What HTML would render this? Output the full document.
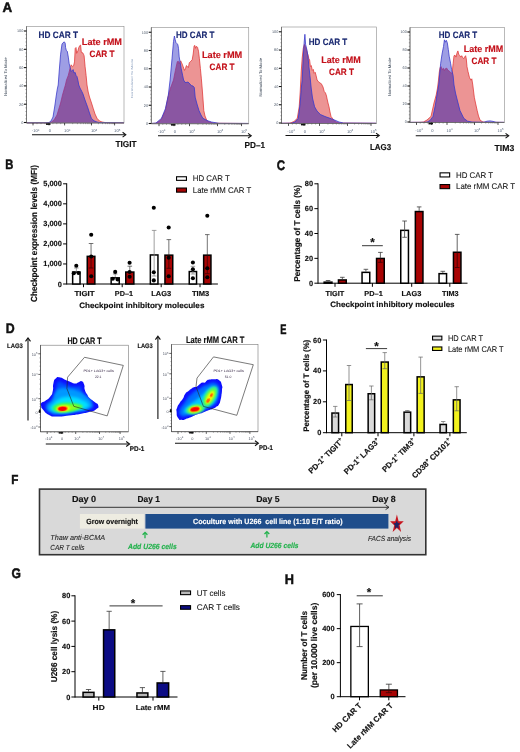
<!DOCTYPE html>
<html><head><meta charset="utf-8"><title>Figure</title>
<style>html,body{margin:0;padding:0;background:#fff;width:520px;height:752px;overflow:hidden}</style>
</head><body>
<svg width="520" height="752" viewBox="0 0 520 752" style="display:block">
<g font-family="'Liberation Sans', Arial, sans-serif" text-rendering="geometricPrecision">
<rect x="0" y="0" width="520" height="752" fill="#fff"/>
<text x="2.55" y="11.90" font-size="13.8" font-weight="bold" fill="#111" stroke="#111" stroke-width="0.5" textLength="9.70" lengthAdjust="spacingAndGlyphs">A</text>
<clipPath id="cb0"><polygon points="27.00,123.00 27.00,122.80 45.00,122.80 49.00,122.50 51.00,121.00 53.00,117.00 54.80,106.00 56.20,96.00 57.30,89.00 58.20,85.00 59.30,70.00 60.60,54.20 62.00,44.10 63.00,42.70 64.40,41.90 65.20,43.20 65.60,47.50 66.30,50.40 67.30,51.30 68.30,57.10 69.20,63.80 70.20,67.70 71.20,71.50 72.20,70.50 73.10,69.60 74.00,73.00 75.20,72.50 76.00,75.40 76.90,76.30 77.90,80.20 78.80,85.00 80.00,88.00 81.80,91.40 83.00,94.00 85.00,100.00 87.50,106.80 89.50,113.00 91.40,118.30 94.00,120.80 97.00,122.00 100.00,122.60 124.00,122.80 124.00,123.00"/></clipPath>
<polygon points="27.00,123.00 27.00,122.80 48.00,122.80 51.00,122.30 54.00,120.00 57.00,115.00 60.60,103.00 62.50,95.00 64.20,89.00 65.40,85.00 66.50,80.00 68.30,75.40 70.20,67.70 71.20,64.80 72.60,66.70 73.60,65.80 74.50,61.90 75.20,48.50 76.00,47.50 76.70,53.30 77.90,50.90 78.80,47.50 79.80,45.60 80.60,45.10 81.30,52.30 82.70,52.80 83.50,54.20 84.10,55.70 85.10,66.70 86.10,75.40 87.00,85.00 88.20,92.00 89.50,97.00 91.50,103.00 93.30,108.70 95.00,114.00 97.00,118.30 99.50,121.00 102.00,122.00 106.00,122.70 124.00,122.80 124.00,123.00" fill="#ec9494"/>
<polyline points="27.00,122.80 48.00,122.80 51.00,122.30 54.00,120.00 57.00,115.00 60.60,103.00 62.50,95.00 64.20,89.00 65.40,85.00 66.50,80.00 68.30,75.40 70.20,67.70 71.20,64.80 72.60,66.70 73.60,65.80 74.50,61.90 75.20,48.50 76.00,47.50 76.70,53.30 77.90,50.90 78.80,47.50 79.80,45.60 80.60,45.10 81.30,52.30 82.70,52.80 83.50,54.20 84.10,55.70 85.10,66.70 86.10,75.40 87.00,85.00 88.20,92.00 89.50,97.00 91.50,103.00 93.30,108.70 95.00,114.00 97.00,118.30 99.50,121.00 102.00,122.00 106.00,122.70 124.00,122.80" fill="none" stroke="#e03434" stroke-width="0.75"/>
<polygon points="27.00,123.00 27.00,122.80 45.00,122.80 49.00,122.50 51.00,121.00 53.00,117.00 54.80,106.00 56.20,96.00 57.30,89.00 58.20,85.00 59.30,70.00 60.60,54.20 62.00,44.10 63.00,42.70 64.40,41.90 65.20,43.20 65.60,47.50 66.30,50.40 67.30,51.30 68.30,57.10 69.20,63.80 70.20,67.70 71.20,71.50 72.20,70.50 73.10,69.60 74.00,73.00 75.20,72.50 76.00,75.40 76.90,76.30 77.90,80.20 78.80,85.00 80.00,88.00 81.80,91.40 83.00,94.00 85.00,100.00 87.50,106.80 89.50,113.00 91.40,118.30 94.00,120.80 97.00,122.00 100.00,122.60 124.00,122.80 124.00,123.00" fill="#9e9ee4"/>
<polygon points="27.00,123.00 27.00,122.80 48.00,122.80 51.00,122.30 54.00,120.00 57.00,115.00 60.60,103.00 62.50,95.00 64.20,89.00 65.40,85.00 66.50,80.00 68.30,75.40 70.20,67.70 71.20,64.80 72.60,66.70 73.60,65.80 74.50,61.90 75.20,48.50 76.00,47.50 76.70,53.30 77.90,50.90 78.80,47.50 79.80,45.60 80.60,45.10 81.30,52.30 82.70,52.80 83.50,54.20 84.10,55.70 85.10,66.70 86.10,75.40 87.00,85.00 88.20,92.00 89.50,97.00 91.50,103.00 93.30,108.70 95.00,114.00 97.00,118.30 99.50,121.00 102.00,122.00 106.00,122.70 124.00,122.80 124.00,123.00" fill="#8a56a2" clip-path="url(#cb0)"/>
<polyline points="27.00,122.80 48.00,122.80 51.00,122.30 54.00,120.00 57.00,115.00 60.60,103.00 62.50,95.00 64.20,89.00 65.40,85.00 66.50,80.00 68.30,75.40 70.20,67.70 71.20,64.80 72.60,66.70 73.60,65.80 74.50,61.90 75.20,48.50 76.00,47.50 76.70,53.30 77.90,50.90 78.80,47.50 79.80,45.60 80.60,45.10 81.30,52.30 82.70,52.80 83.50,54.20 84.10,55.70 85.10,66.70 86.10,75.40 87.00,85.00 88.20,92.00 89.50,97.00 91.50,103.00 93.30,108.70 95.00,114.00 97.00,118.30 99.50,121.00 102.00,122.00 106.00,122.70 124.00,122.80" fill="none" stroke="#9a3584" stroke-width="0.75" clip-path="url(#cb0)"/>
<polyline points="27.00,122.80 45.00,122.80 49.00,122.50 51.00,121.00 53.00,117.00 54.80,106.00 56.20,96.00 57.30,89.00 58.20,85.00 59.30,70.00 60.60,54.20 62.00,44.10 63.00,42.70 64.40,41.90 65.20,43.20 65.60,47.50 66.30,50.40 67.30,51.30 68.30,57.10 69.20,63.80 70.20,67.70 71.20,71.50 72.20,70.50 73.10,69.60 74.00,73.00 75.20,72.50 76.00,75.40 76.90,76.30 77.90,80.20 78.80,85.00 80.00,88.00 81.80,91.40 83.00,94.00 85.00,100.00 87.50,106.80 89.50,113.00 91.40,118.30 94.00,120.80 97.00,122.00 100.00,122.60 124.00,122.80" fill="none" stroke="#3434c8" stroke-width="0.75"/>
<rect x="26.5" y="26.5" width="97.5" height="96.5" fill="none" stroke="#8a8a8a" stroke-width="0.6"/>
<line x1="26.50" y1="26.50" x2="26.50" y2="123.00" stroke="#666" stroke-width="0.8"/>
<line x1="26.50" y1="123.00" x2="124.00" y2="123.00" stroke="#666" stroke-width="0.8"/>
<line x1="23.90" y1="122.50" x2="26.50" y2="122.50" stroke="#111" stroke-width="1.1"/>
<text x="23.30" y="123.80" font-size="3.8" fill="#556070" text-anchor="end">0</text>
<line x1="25.30" y1="118.84" x2="26.50" y2="118.84" stroke="#444" stroke-width="0.4"/>
<line x1="25.30" y1="115.18" x2="26.50" y2="115.18" stroke="#444" stroke-width="0.4"/>
<line x1="25.30" y1="111.52" x2="26.50" y2="111.52" stroke="#444" stroke-width="0.4"/>
<line x1="25.30" y1="107.86" x2="26.50" y2="107.86" stroke="#444" stroke-width="0.4"/>
<line x1="23.90" y1="104.20" x2="26.50" y2="104.20" stroke="#111" stroke-width="1.1"/>
<text x="23.30" y="105.50" font-size="3.8" fill="#556070" text-anchor="end">20</text>
<line x1="25.30" y1="100.54" x2="26.50" y2="100.54" stroke="#444" stroke-width="0.4"/>
<line x1="25.30" y1="96.88" x2="26.50" y2="96.88" stroke="#444" stroke-width="0.4"/>
<line x1="25.30" y1="93.22" x2="26.50" y2="93.22" stroke="#444" stroke-width="0.4"/>
<line x1="25.30" y1="89.56" x2="26.50" y2="89.56" stroke="#444" stroke-width="0.4"/>
<line x1="23.90" y1="85.90" x2="26.50" y2="85.90" stroke="#111" stroke-width="1.1"/>
<text x="23.30" y="87.20" font-size="3.8" fill="#556070" text-anchor="end">40</text>
<line x1="25.30" y1="82.24" x2="26.50" y2="82.24" stroke="#444" stroke-width="0.4"/>
<line x1="25.30" y1="78.58" x2="26.50" y2="78.58" stroke="#444" stroke-width="0.4"/>
<line x1="25.30" y1="74.92" x2="26.50" y2="74.92" stroke="#444" stroke-width="0.4"/>
<line x1="25.30" y1="71.26" x2="26.50" y2="71.26" stroke="#444" stroke-width="0.4"/>
<line x1="23.90" y1="67.60" x2="26.50" y2="67.60" stroke="#111" stroke-width="1.1"/>
<text x="23.30" y="68.90" font-size="3.8" fill="#556070" text-anchor="end">60</text>
<line x1="25.30" y1="63.94" x2="26.50" y2="63.94" stroke="#444" stroke-width="0.4"/>
<line x1="25.30" y1="60.28" x2="26.50" y2="60.28" stroke="#444" stroke-width="0.4"/>
<line x1="25.30" y1="56.62" x2="26.50" y2="56.62" stroke="#444" stroke-width="0.4"/>
<line x1="25.30" y1="52.96" x2="26.50" y2="52.96" stroke="#444" stroke-width="0.4"/>
<line x1="23.90" y1="49.30" x2="26.50" y2="49.30" stroke="#111" stroke-width="1.1"/>
<text x="23.30" y="50.60" font-size="3.8" fill="#556070" text-anchor="end">80</text>
<line x1="25.30" y1="45.64" x2="26.50" y2="45.64" stroke="#444" stroke-width="0.4"/>
<line x1="25.30" y1="41.98" x2="26.50" y2="41.98" stroke="#444" stroke-width="0.4"/>
<line x1="25.30" y1="38.32" x2="26.50" y2="38.32" stroke="#444" stroke-width="0.4"/>
<line x1="25.30" y1="34.66" x2="26.50" y2="34.66" stroke="#444" stroke-width="0.4"/>
<line x1="23.90" y1="31.00" x2="26.50" y2="31.00" stroke="#111" stroke-width="1.1"/>
<text x="23.30" y="32.30" font-size="3.8" fill="#556070" text-anchor="end">100</text>
<text transform="translate(7.10,95.95) rotate(-90)" x="0" y="0" font-size="4.0" fill="#3a4656" textLength="38.60" lengthAdjust="spacingAndGlyphs">Normalized To Mode</text>
<line x1="33.00" y1="123.00" x2="33.00" y2="125.40" stroke="#222" stroke-width="0.8"/>
<line x1="49.00" y1="123.00" x2="49.00" y2="125.40" stroke="#222" stroke-width="0.8"/>
<line x1="64.60" y1="123.00" x2="64.60" y2="125.40" stroke="#222" stroke-width="0.8"/>
<line x1="91.50" y1="123.00" x2="91.50" y2="125.40" stroke="#222" stroke-width="0.8"/>
<line x1="114.60" y1="123.00" x2="114.60" y2="125.40" stroke="#222" stroke-width="0.8"/>
<line x1="37.00" y1="123.00" x2="37.00" y2="124.20" stroke="#444" stroke-width="0.4"/>
<line x1="41.00" y1="123.00" x2="41.00" y2="124.20" stroke="#444" stroke-width="0.4"/>
<line x1="45.00" y1="123.00" x2="45.00" y2="124.20" stroke="#444" stroke-width="0.4"/>
<line x1="52.90" y1="123.00" x2="52.90" y2="124.20" stroke="#444" stroke-width="0.4"/>
<line x1="56.80" y1="123.00" x2="56.80" y2="124.20" stroke="#444" stroke-width="0.4"/>
<line x1="60.70" y1="123.00" x2="60.70" y2="124.20" stroke="#444" stroke-width="0.4"/>
<line x1="72.70" y1="123.00" x2="72.70" y2="124.20" stroke="#444" stroke-width="0.4"/>
<line x1="77.43" y1="123.00" x2="77.43" y2="124.20" stroke="#444" stroke-width="0.4"/>
<line x1="80.80" y1="123.00" x2="80.80" y2="124.20" stroke="#444" stroke-width="0.4"/>
<line x1="83.40" y1="123.00" x2="83.40" y2="124.20" stroke="#444" stroke-width="0.4"/>
<line x1="85.53" y1="123.00" x2="85.53" y2="124.20" stroke="#444" stroke-width="0.4"/>
<line x1="87.33" y1="123.00" x2="87.33" y2="124.20" stroke="#444" stroke-width="0.4"/>
<line x1="88.89" y1="123.00" x2="88.89" y2="124.20" stroke="#444" stroke-width="0.4"/>
<line x1="90.27" y1="123.00" x2="90.27" y2="124.20" stroke="#444" stroke-width="0.4"/>
<line x1="98.45" y1="123.00" x2="98.45" y2="124.20" stroke="#444" stroke-width="0.4"/>
<line x1="102.52" y1="123.00" x2="102.52" y2="124.20" stroke="#444" stroke-width="0.4"/>
<line x1="105.41" y1="123.00" x2="105.41" y2="124.20" stroke="#444" stroke-width="0.4"/>
<line x1="107.65" y1="123.00" x2="107.65" y2="124.20" stroke="#444" stroke-width="0.4"/>
<line x1="109.48" y1="123.00" x2="109.48" y2="124.20" stroke="#444" stroke-width="0.4"/>
<line x1="111.02" y1="123.00" x2="111.02" y2="124.20" stroke="#444" stroke-width="0.4"/>
<line x1="112.36" y1="123.00" x2="112.36" y2="124.20" stroke="#444" stroke-width="0.4"/>
<line x1="113.54" y1="123.00" x2="113.54" y2="124.20" stroke="#444" stroke-width="0.4"/>
<rect x="46.00" y="123.30" width="4.50" height="1.60" fill="#111" stroke="none" stroke-width="1"/>
<text x="35.60" y="132.40" font-size="4.1" fill="#506078" text-anchor="middle">-10<tspan font-size="2.9" dy="-1.9">3</tspan></text>
<text x="49.80" y="132.40" font-size="4.1" fill="#506078" text-anchor="middle">0</text>
<text x="67.20" y="132.40" font-size="4.1" fill="#506078" text-anchor="middle">10<tspan font-size="2.9" dy="-1.9">3</tspan></text>
<text x="94.10" y="132.40" font-size="4.1" fill="#506078" text-anchor="middle">10<tspan font-size="2.9" dy="-1.9">4</tspan></text>
<text x="117.20" y="132.40" font-size="4.1" fill="#506078" text-anchor="middle">10<tspan font-size="2.9" dy="-1.9">5</tspan></text>
<line x1="32.00" y1="134.70" x2="125.20" y2="134.70" stroke="#111" stroke-width="1.1"/>
<polyline points="122.60,132.30 125.80,134.70 122.60,137.10" fill="none" stroke="#111" stroke-width="1.1"/>
<text x="115.40" y="147.40" font-size="8.6" font-weight="bold" fill="#111" stroke="#111" stroke-width="0.15" textLength="21.10" lengthAdjust="spacingAndGlyphs">TIGIT</text>
<text x="38.50" y="38.00" font-size="9.3" font-weight="bold" fill="#1b2a72" stroke="#1b2a72" stroke-width="0.15" textLength="39.50" lengthAdjust="spacingAndGlyphs">HD CAR T</text>
<text x="81.80" y="45.40" font-size="9.3" font-weight="bold" fill="#c4121b" stroke="#c4121b" stroke-width="0.15" textLength="40.20" lengthAdjust="spacingAndGlyphs">Late rMM</text>
<text x="89.50" y="57.20" font-size="9.3" font-weight="bold" fill="#c4121b" stroke="#c4121b" stroke-width="0.15" textLength="25.00" lengthAdjust="spacingAndGlyphs">CAR T</text>
<clipPath id="cb1"><polygon points="151.50,123.75 151.50,123.40 156.00,123.00 161.50,118.30 165.40,108.70 168.30,95.20 170.10,80.00 172.00,58.80 173.50,41.50 174.40,36.00 175.20,39.60 175.90,42.50 176.80,43.50 177.80,44.40 178.50,48.30 179.20,56.90 180.20,62.70 181.20,68.50 182.60,75.20 183.60,80.00 185.00,82.30 186.00,82.50 188.00,82.00 190.00,84.00 191.30,85.60 193.00,86.00 194.30,87.50 195.20,97.20 197.00,104.00 199.00,110.60 201.00,115.00 202.90,118.30 207.00,120.50 211.50,122.00 219.00,123.30 248.00,123.40 248.00,123.75"/></clipPath>
<polygon points="151.50,123.75 151.50,123.50 156.00,123.30 161.00,120.00 165.40,110.60 168.00,97.00 170.50,88.00 173.50,80.00 175.40,70.40 177.30,61.70 178.30,61.30 179.20,63.70 180.70,60.80 181.60,62.70 183.10,66.50 184.50,70.40 185.50,68.50 186.40,65.60 187.40,66.50 188.40,67.50 189.30,62.70 190.80,61.30 192.20,59.80 193.20,54.00 194.10,45.90 194.80,45.40 195.60,48.30 196.50,46.30 197.50,47.30 198.50,51.20 199.40,58.80 200.40,68.50 201.30,78.10 202.30,90.00 203.20,102.00 203.80,110.60 205.00,116.00 206.70,120.20 209.00,122.00 213.50,123.20 248.00,123.50 248.00,123.75" fill="#ec9494"/>
<polyline points="151.50,123.50 156.00,123.30 161.00,120.00 165.40,110.60 168.00,97.00 170.50,88.00 173.50,80.00 175.40,70.40 177.30,61.70 178.30,61.30 179.20,63.70 180.70,60.80 181.60,62.70 183.10,66.50 184.50,70.40 185.50,68.50 186.40,65.60 187.40,66.50 188.40,67.50 189.30,62.70 190.80,61.30 192.20,59.80 193.20,54.00 194.10,45.90 194.80,45.40 195.60,48.30 196.50,46.30 197.50,47.30 198.50,51.20 199.40,58.80 200.40,68.50 201.30,78.10 202.30,90.00 203.20,102.00 203.80,110.60 205.00,116.00 206.70,120.20 209.00,122.00 213.50,123.20 248.00,123.50" fill="none" stroke="#e03434" stroke-width="0.75"/>
<polygon points="151.50,123.75 151.50,123.40 156.00,123.00 161.50,118.30 165.40,108.70 168.30,95.20 170.10,80.00 172.00,58.80 173.50,41.50 174.40,36.00 175.20,39.60 175.90,42.50 176.80,43.50 177.80,44.40 178.50,48.30 179.20,56.90 180.20,62.70 181.20,68.50 182.60,75.20 183.60,80.00 185.00,82.30 186.00,82.50 188.00,82.00 190.00,84.00 191.30,85.60 193.00,86.00 194.30,87.50 195.20,97.20 197.00,104.00 199.00,110.60 201.00,115.00 202.90,118.30 207.00,120.50 211.50,122.00 219.00,123.30 248.00,123.40 248.00,123.75" fill="#9e9ee4"/>
<polygon points="151.50,123.75 151.50,123.50 156.00,123.30 161.00,120.00 165.40,110.60 168.00,97.00 170.50,88.00 173.50,80.00 175.40,70.40 177.30,61.70 178.30,61.30 179.20,63.70 180.70,60.80 181.60,62.70 183.10,66.50 184.50,70.40 185.50,68.50 186.40,65.60 187.40,66.50 188.40,67.50 189.30,62.70 190.80,61.30 192.20,59.80 193.20,54.00 194.10,45.90 194.80,45.40 195.60,48.30 196.50,46.30 197.50,47.30 198.50,51.20 199.40,58.80 200.40,68.50 201.30,78.10 202.30,90.00 203.20,102.00 203.80,110.60 205.00,116.00 206.70,120.20 209.00,122.00 213.50,123.20 248.00,123.50 248.00,123.75" fill="#8a56a2" clip-path="url(#cb1)"/>
<polyline points="151.50,123.50 156.00,123.30 161.00,120.00 165.40,110.60 168.00,97.00 170.50,88.00 173.50,80.00 175.40,70.40 177.30,61.70 178.30,61.30 179.20,63.70 180.70,60.80 181.60,62.70 183.10,66.50 184.50,70.40 185.50,68.50 186.40,65.60 187.40,66.50 188.40,67.50 189.30,62.70 190.80,61.30 192.20,59.80 193.20,54.00 194.10,45.90 194.80,45.40 195.60,48.30 196.50,46.30 197.50,47.30 198.50,51.20 199.40,58.80 200.40,68.50 201.30,78.10 202.30,90.00 203.20,102.00 203.80,110.60 205.00,116.00 206.70,120.20 209.00,122.00 213.50,123.20 248.00,123.50" fill="none" stroke="#9a3584" stroke-width="0.75" clip-path="url(#cb1)"/>
<polyline points="151.50,123.40 156.00,123.00 161.50,118.30 165.40,108.70 168.30,95.20 170.10,80.00 172.00,58.80 173.50,41.50 174.40,36.00 175.20,39.60 175.90,42.50 176.80,43.50 177.80,44.40 178.50,48.30 179.20,56.90 180.20,62.70 181.20,68.50 182.60,75.20 183.60,80.00 185.00,82.30 186.00,82.50 188.00,82.00 190.00,84.00 191.30,85.60 193.00,86.00 194.30,87.50 195.20,97.20 197.00,104.00 199.00,110.60 201.00,115.00 202.90,118.30 207.00,120.50 211.50,122.00 219.00,123.30 248.00,123.40" fill="none" stroke="#3434c8" stroke-width="0.75"/>
<rect x="151.3" y="27.5" width="97.44999999999999" height="96.25" fill="none" stroke="#8a8a8a" stroke-width="0.6"/>
<line x1="151.30" y1="27.50" x2="151.30" y2="123.75" stroke="#666" stroke-width="0.8"/>
<line x1="151.30" y1="123.75" x2="248.75" y2="123.75" stroke="#666" stroke-width="0.8"/>
<line x1="148.70" y1="123.50" x2="151.30" y2="123.50" stroke="#111" stroke-width="1.1"/>
<text x="148.10" y="124.80" font-size="3.8" fill="#556070" text-anchor="end">0</text>
<line x1="150.10" y1="119.85" x2="151.30" y2="119.85" stroke="#444" stroke-width="0.4"/>
<line x1="150.10" y1="116.20" x2="151.30" y2="116.20" stroke="#444" stroke-width="0.4"/>
<line x1="150.10" y1="112.55" x2="151.30" y2="112.55" stroke="#444" stroke-width="0.4"/>
<line x1="150.10" y1="108.90" x2="151.30" y2="108.90" stroke="#444" stroke-width="0.4"/>
<line x1="148.70" y1="105.25" x2="151.30" y2="105.25" stroke="#111" stroke-width="1.1"/>
<text x="148.10" y="106.55" font-size="3.8" fill="#556070" text-anchor="end">20</text>
<line x1="150.10" y1="101.60" x2="151.30" y2="101.60" stroke="#444" stroke-width="0.4"/>
<line x1="150.10" y1="97.95" x2="151.30" y2="97.95" stroke="#444" stroke-width="0.4"/>
<line x1="150.10" y1="94.30" x2="151.30" y2="94.30" stroke="#444" stroke-width="0.4"/>
<line x1="150.10" y1="90.65" x2="151.30" y2="90.65" stroke="#444" stroke-width="0.4"/>
<line x1="148.70" y1="87.00" x2="151.30" y2="87.00" stroke="#111" stroke-width="1.1"/>
<text x="148.10" y="88.30" font-size="3.8" fill="#556070" text-anchor="end">40</text>
<line x1="150.10" y1="83.35" x2="151.30" y2="83.35" stroke="#444" stroke-width="0.4"/>
<line x1="150.10" y1="79.70" x2="151.30" y2="79.70" stroke="#444" stroke-width="0.4"/>
<line x1="150.10" y1="76.05" x2="151.30" y2="76.05" stroke="#444" stroke-width="0.4"/>
<line x1="150.10" y1="72.40" x2="151.30" y2="72.40" stroke="#444" stroke-width="0.4"/>
<line x1="148.70" y1="68.75" x2="151.30" y2="68.75" stroke="#111" stroke-width="1.1"/>
<text x="148.10" y="70.05" font-size="3.8" fill="#556070" text-anchor="end">60</text>
<line x1="150.10" y1="65.10" x2="151.30" y2="65.10" stroke="#444" stroke-width="0.4"/>
<line x1="150.10" y1="61.45" x2="151.30" y2="61.45" stroke="#444" stroke-width="0.4"/>
<line x1="150.10" y1="57.80" x2="151.30" y2="57.80" stroke="#444" stroke-width="0.4"/>
<line x1="150.10" y1="54.15" x2="151.30" y2="54.15" stroke="#444" stroke-width="0.4"/>
<line x1="148.70" y1="50.50" x2="151.30" y2="50.50" stroke="#111" stroke-width="1.1"/>
<text x="148.10" y="51.80" font-size="3.8" fill="#556070" text-anchor="end">80</text>
<line x1="150.10" y1="46.85" x2="151.30" y2="46.85" stroke="#444" stroke-width="0.4"/>
<line x1="150.10" y1="43.20" x2="151.30" y2="43.20" stroke="#444" stroke-width="0.4"/>
<line x1="150.10" y1="39.55" x2="151.30" y2="39.55" stroke="#444" stroke-width="0.4"/>
<line x1="150.10" y1="35.90" x2="151.30" y2="35.90" stroke="#444" stroke-width="0.4"/>
<line x1="148.70" y1="32.25" x2="151.30" y2="32.25" stroke="#111" stroke-width="1.1"/>
<text x="148.10" y="33.55" font-size="3.8" fill="#556070" text-anchor="end">100</text>
<text transform="translate(132.60,98.12) rotate(-90)" x="0" y="0" font-size="2.9" fill="#8ea2c0" textLength="39.30" lengthAdjust="spacingAndGlyphs">Normalized To Mode</text>
<line x1="159.00" y1="123.75" x2="159.00" y2="126.15" stroke="#222" stroke-width="0.8"/>
<line x1="174.00" y1="123.75" x2="174.00" y2="126.15" stroke="#222" stroke-width="0.8"/>
<line x1="189.50" y1="123.75" x2="189.50" y2="126.15" stroke="#222" stroke-width="0.8"/>
<line x1="217.50" y1="123.75" x2="217.50" y2="126.15" stroke="#222" stroke-width="0.8"/>
<line x1="241.50" y1="123.75" x2="241.50" y2="126.15" stroke="#222" stroke-width="0.8"/>
<line x1="162.75" y1="123.75" x2="162.75" y2="124.95" stroke="#444" stroke-width="0.4"/>
<line x1="166.50" y1="123.75" x2="166.50" y2="124.95" stroke="#444" stroke-width="0.4"/>
<line x1="170.25" y1="123.75" x2="170.25" y2="124.95" stroke="#444" stroke-width="0.4"/>
<line x1="177.88" y1="123.75" x2="177.88" y2="124.95" stroke="#444" stroke-width="0.4"/>
<line x1="181.75" y1="123.75" x2="181.75" y2="124.95" stroke="#444" stroke-width="0.4"/>
<line x1="185.62" y1="123.75" x2="185.62" y2="124.95" stroke="#444" stroke-width="0.4"/>
<line x1="197.93" y1="123.75" x2="197.93" y2="124.95" stroke="#444" stroke-width="0.4"/>
<line x1="202.86" y1="123.75" x2="202.86" y2="124.95" stroke="#444" stroke-width="0.4"/>
<line x1="206.36" y1="123.75" x2="206.36" y2="124.95" stroke="#444" stroke-width="0.4"/>
<line x1="209.07" y1="123.75" x2="209.07" y2="124.95" stroke="#444" stroke-width="0.4"/>
<line x1="211.29" y1="123.75" x2="211.29" y2="124.95" stroke="#444" stroke-width="0.4"/>
<line x1="213.16" y1="123.75" x2="213.16" y2="124.95" stroke="#444" stroke-width="0.4"/>
<line x1="214.79" y1="123.75" x2="214.79" y2="124.95" stroke="#444" stroke-width="0.4"/>
<line x1="216.22" y1="123.75" x2="216.22" y2="124.95" stroke="#444" stroke-width="0.4"/>
<line x1="224.72" y1="123.75" x2="224.72" y2="124.95" stroke="#444" stroke-width="0.4"/>
<line x1="228.95" y1="123.75" x2="228.95" y2="124.95" stroke="#444" stroke-width="0.4"/>
<line x1="231.95" y1="123.75" x2="231.95" y2="124.95" stroke="#444" stroke-width="0.4"/>
<line x1="234.28" y1="123.75" x2="234.28" y2="124.95" stroke="#444" stroke-width="0.4"/>
<line x1="236.18" y1="123.75" x2="236.18" y2="124.95" stroke="#444" stroke-width="0.4"/>
<line x1="237.78" y1="123.75" x2="237.78" y2="124.95" stroke="#444" stroke-width="0.4"/>
<line x1="239.17" y1="123.75" x2="239.17" y2="124.95" stroke="#444" stroke-width="0.4"/>
<line x1="240.40" y1="123.75" x2="240.40" y2="124.95" stroke="#444" stroke-width="0.4"/>
<rect x="171.00" y="124.05" width="4.50" height="1.60" fill="#111" stroke="none" stroke-width="1"/>
<text x="161.60" y="133.15" font-size="4.1" fill="#506078" text-anchor="middle">-10<tspan font-size="2.9" dy="-1.9">3</tspan></text>
<text x="174.80" y="133.15" font-size="4.1" fill="#506078" text-anchor="middle">0</text>
<text x="192.10" y="133.15" font-size="4.1" fill="#506078" text-anchor="middle">10<tspan font-size="2.9" dy="-1.9">3</tspan></text>
<text x="220.10" y="133.15" font-size="4.1" fill="#506078" text-anchor="middle">10<tspan font-size="2.9" dy="-1.9">4</tspan></text>
<text x="244.10" y="133.15" font-size="4.1" fill="#506078" text-anchor="middle">10<tspan font-size="2.9" dy="-1.9">5</tspan></text>
<line x1="158.00" y1="135.75" x2="250.65" y2="135.75" stroke="#111" stroke-width="1.1"/>
<polyline points="248.05,133.35 251.25,135.75 248.05,138.15" fill="none" stroke="#111" stroke-width="1.1"/>
<text x="244.50" y="148.25" font-size="8.6" font-weight="bold" fill="#111" stroke="#111" stroke-width="0.15" textLength="20.50" lengthAdjust="spacingAndGlyphs">PD–1</text>
<text x="176.00" y="38.00" font-size="9.3" font-weight="bold" fill="#1b2a72" stroke="#1b2a72" stroke-width="0.15" textLength="38.40" lengthAdjust="spacingAndGlyphs">HD CAR T</text>
<text x="201.90" y="57.90" font-size="9.3" font-weight="bold" fill="#c4121b" stroke="#c4121b" stroke-width="0.15" textLength="40.40" lengthAdjust="spacingAndGlyphs">Late rMM</text>
<text x="209.60" y="69.70" font-size="9.3" font-weight="bold" fill="#c4121b" stroke="#c4121b" stroke-width="0.15" textLength="25.00" lengthAdjust="spacingAndGlyphs">CAR T</text>
<clipPath id="cb2"><polygon points="281.50,123.50 281.50,123.20 291.50,123.20 295.00,122.00 298.30,118.30 300.20,103.00 301.30,88.00 302.20,80.00 303.20,58.00 304.20,42.00 304.90,34.30 305.60,44.40 307.00,50.20 308.00,56.90 308.90,66.50 309.90,75.20 310.40,80.00 311.20,88.00 312.50,98.00 314.60,106.80 317.00,111.00 320.40,114.50 325.00,116.50 330.00,118.30 335.00,120.20 339.00,122.00 343.50,123.00 376.00,123.20 376.00,123.50"/></clipPath>
<polygon points="281.50,123.50 281.50,123.30 290.00,123.10 294.00,121.50 297.30,118.30 299.20,106.80 300.20,92.00 301.20,72.00 302.20,58.00 303.30,48.00 304.40,44.40 305.30,46.50 306.30,49.20 307.20,52.50 308.00,55.00 308.90,58.80 309.60,59.80 310.40,66.50 311.30,65.60 312.30,70.40 313.30,69.40 314.20,73.30 315.20,72.30 316.00,75.20 317.10,80.00 318.50,81.80 320.00,83.00 321.30,83.70 323.00,87.00 324.20,91.40 325.50,93.00 326.50,96.00 327.10,99.00 328.00,103.00 329.00,106.80 330.00,112.00 331.00,116.40 333.80,120.20 336.00,122.00 339.60,123.00 376.00,123.30 376.00,123.50" fill="#ec9494"/>
<polyline points="281.50,123.30 290.00,123.10 294.00,121.50 297.30,118.30 299.20,106.80 300.20,92.00 301.20,72.00 302.20,58.00 303.30,48.00 304.40,44.40 305.30,46.50 306.30,49.20 307.20,52.50 308.00,55.00 308.90,58.80 309.60,59.80 310.40,66.50 311.30,65.60 312.30,70.40 313.30,69.40 314.20,73.30 315.20,72.30 316.00,75.20 317.10,80.00 318.50,81.80 320.00,83.00 321.30,83.70 323.00,87.00 324.20,91.40 325.50,93.00 326.50,96.00 327.10,99.00 328.00,103.00 329.00,106.80 330.00,112.00 331.00,116.40 333.80,120.20 336.00,122.00 339.60,123.00 376.00,123.30" fill="none" stroke="#e03434" stroke-width="0.75"/>
<polygon points="281.50,123.50 281.50,123.20 291.50,123.20 295.00,122.00 298.30,118.30 300.20,103.00 301.30,88.00 302.20,80.00 303.20,58.00 304.20,42.00 304.90,34.30 305.60,44.40 307.00,50.20 308.00,56.90 308.90,66.50 309.90,75.20 310.40,80.00 311.20,88.00 312.50,98.00 314.60,106.80 317.00,111.00 320.40,114.50 325.00,116.50 330.00,118.30 335.00,120.20 339.00,122.00 343.50,123.00 376.00,123.20 376.00,123.50" fill="#9e9ee4"/>
<polygon points="281.50,123.50 281.50,123.30 290.00,123.10 294.00,121.50 297.30,118.30 299.20,106.80 300.20,92.00 301.20,72.00 302.20,58.00 303.30,48.00 304.40,44.40 305.30,46.50 306.30,49.20 307.20,52.50 308.00,55.00 308.90,58.80 309.60,59.80 310.40,66.50 311.30,65.60 312.30,70.40 313.30,69.40 314.20,73.30 315.20,72.30 316.00,75.20 317.10,80.00 318.50,81.80 320.00,83.00 321.30,83.70 323.00,87.00 324.20,91.40 325.50,93.00 326.50,96.00 327.10,99.00 328.00,103.00 329.00,106.80 330.00,112.00 331.00,116.40 333.80,120.20 336.00,122.00 339.60,123.00 376.00,123.30 376.00,123.50" fill="#8a56a2" clip-path="url(#cb2)"/>
<polyline points="281.50,123.30 290.00,123.10 294.00,121.50 297.30,118.30 299.20,106.80 300.20,92.00 301.20,72.00 302.20,58.00 303.30,48.00 304.40,44.40 305.30,46.50 306.30,49.20 307.20,52.50 308.00,55.00 308.90,58.80 309.60,59.80 310.40,66.50 311.30,65.60 312.30,70.40 313.30,69.40 314.20,73.30 315.20,72.30 316.00,75.20 317.10,80.00 318.50,81.80 320.00,83.00 321.30,83.70 323.00,87.00 324.20,91.40 325.50,93.00 326.50,96.00 327.10,99.00 328.00,103.00 329.00,106.80 330.00,112.00 331.00,116.40 333.80,120.20 336.00,122.00 339.60,123.00 376.00,123.30" fill="none" stroke="#9a3584" stroke-width="0.75" clip-path="url(#cb2)"/>
<polyline points="281.50,123.20 291.50,123.20 295.00,122.00 298.30,118.30 300.20,103.00 301.30,88.00 302.20,80.00 303.20,58.00 304.20,42.00 304.90,34.30 305.60,44.40 307.00,50.20 308.00,56.90 308.90,66.50 309.90,75.20 310.40,80.00 311.20,88.00 312.50,98.00 314.60,106.80 317.00,111.00 320.40,114.50 325.00,116.50 330.00,118.30 335.00,120.20 339.00,122.00 343.50,123.00 376.00,123.20" fill="none" stroke="#3434c8" stroke-width="0.75"/>
<rect x="281.5" y="27" width="95.0" height="96.5" fill="none" stroke="#8a8a8a" stroke-width="0.6"/>
<line x1="281.50" y1="27.00" x2="281.50" y2="123.50" stroke="#666" stroke-width="0.8"/>
<line x1="281.50" y1="123.50" x2="376.50" y2="123.50" stroke="#666" stroke-width="0.8"/>
<line x1="278.90" y1="123.00" x2="281.50" y2="123.00" stroke="#111" stroke-width="1.1"/>
<text x="278.30" y="124.30" font-size="3.8" fill="#556070" text-anchor="end">0</text>
<line x1="280.30" y1="119.35" x2="281.50" y2="119.35" stroke="#444" stroke-width="0.4"/>
<line x1="280.30" y1="115.70" x2="281.50" y2="115.70" stroke="#444" stroke-width="0.4"/>
<line x1="280.30" y1="112.06" x2="281.50" y2="112.06" stroke="#444" stroke-width="0.4"/>
<line x1="280.30" y1="108.41" x2="281.50" y2="108.41" stroke="#444" stroke-width="0.4"/>
<line x1="278.90" y1="104.76" x2="281.50" y2="104.76" stroke="#111" stroke-width="1.1"/>
<text x="278.30" y="106.06" font-size="3.8" fill="#556070" text-anchor="end">20</text>
<line x1="280.30" y1="101.11" x2="281.50" y2="101.11" stroke="#444" stroke-width="0.4"/>
<line x1="280.30" y1="97.46" x2="281.50" y2="97.46" stroke="#444" stroke-width="0.4"/>
<line x1="280.30" y1="93.82" x2="281.50" y2="93.82" stroke="#444" stroke-width="0.4"/>
<line x1="280.30" y1="90.17" x2="281.50" y2="90.17" stroke="#444" stroke-width="0.4"/>
<line x1="278.90" y1="86.52" x2="281.50" y2="86.52" stroke="#111" stroke-width="1.1"/>
<text x="278.30" y="87.82" font-size="3.8" fill="#556070" text-anchor="end">40</text>
<line x1="280.30" y1="82.87" x2="281.50" y2="82.87" stroke="#444" stroke-width="0.4"/>
<line x1="280.30" y1="79.22" x2="281.50" y2="79.22" stroke="#444" stroke-width="0.4"/>
<line x1="280.30" y1="75.58" x2="281.50" y2="75.58" stroke="#444" stroke-width="0.4"/>
<line x1="280.30" y1="71.93" x2="281.50" y2="71.93" stroke="#444" stroke-width="0.4"/>
<line x1="278.90" y1="68.28" x2="281.50" y2="68.28" stroke="#111" stroke-width="1.1"/>
<text x="278.30" y="69.58" font-size="3.8" fill="#556070" text-anchor="end">60</text>
<line x1="280.30" y1="64.63" x2="281.50" y2="64.63" stroke="#444" stroke-width="0.4"/>
<line x1="280.30" y1="60.98" x2="281.50" y2="60.98" stroke="#444" stroke-width="0.4"/>
<line x1="280.30" y1="57.34" x2="281.50" y2="57.34" stroke="#444" stroke-width="0.4"/>
<line x1="280.30" y1="53.69" x2="281.50" y2="53.69" stroke="#444" stroke-width="0.4"/>
<line x1="278.90" y1="50.04" x2="281.50" y2="50.04" stroke="#111" stroke-width="1.1"/>
<text x="278.30" y="51.34" font-size="3.8" fill="#556070" text-anchor="end">80</text>
<line x1="280.30" y1="46.39" x2="281.50" y2="46.39" stroke="#444" stroke-width="0.4"/>
<line x1="280.30" y1="42.74" x2="281.50" y2="42.74" stroke="#444" stroke-width="0.4"/>
<line x1="280.30" y1="39.10" x2="281.50" y2="39.10" stroke="#444" stroke-width="0.4"/>
<line x1="280.30" y1="35.45" x2="281.50" y2="35.45" stroke="#444" stroke-width="0.4"/>
<line x1="278.90" y1="31.80" x2="281.50" y2="31.80" stroke="#111" stroke-width="1.1"/>
<text x="278.30" y="33.10" font-size="3.8" fill="#556070" text-anchor="end">100</text>
<text transform="translate(262.10,96.45) rotate(-90)" x="0" y="0" font-size="4.0" fill="#3a4656" textLength="38.60" lengthAdjust="spacingAndGlyphs">Normalized To Mode</text>
<line x1="288.50" y1="123.50" x2="288.50" y2="125.90" stroke="#222" stroke-width="0.8"/>
<line x1="304.00" y1="123.50" x2="304.00" y2="125.90" stroke="#222" stroke-width="0.8"/>
<line x1="319.50" y1="123.50" x2="319.50" y2="125.90" stroke="#222" stroke-width="0.8"/>
<line x1="347.50" y1="123.50" x2="347.50" y2="125.90" stroke="#222" stroke-width="0.8"/>
<line x1="371.00" y1="123.50" x2="371.00" y2="125.90" stroke="#222" stroke-width="0.8"/>
<line x1="292.38" y1="123.50" x2="292.38" y2="124.70" stroke="#444" stroke-width="0.4"/>
<line x1="296.25" y1="123.50" x2="296.25" y2="124.70" stroke="#444" stroke-width="0.4"/>
<line x1="300.12" y1="123.50" x2="300.12" y2="124.70" stroke="#444" stroke-width="0.4"/>
<line x1="307.88" y1="123.50" x2="307.88" y2="124.70" stroke="#444" stroke-width="0.4"/>
<line x1="311.75" y1="123.50" x2="311.75" y2="124.70" stroke="#444" stroke-width="0.4"/>
<line x1="315.62" y1="123.50" x2="315.62" y2="124.70" stroke="#444" stroke-width="0.4"/>
<line x1="327.93" y1="123.50" x2="327.93" y2="124.70" stroke="#444" stroke-width="0.4"/>
<line x1="332.86" y1="123.50" x2="332.86" y2="124.70" stroke="#444" stroke-width="0.4"/>
<line x1="336.36" y1="123.50" x2="336.36" y2="124.70" stroke="#444" stroke-width="0.4"/>
<line x1="339.07" y1="123.50" x2="339.07" y2="124.70" stroke="#444" stroke-width="0.4"/>
<line x1="341.29" y1="123.50" x2="341.29" y2="124.70" stroke="#444" stroke-width="0.4"/>
<line x1="343.16" y1="123.50" x2="343.16" y2="124.70" stroke="#444" stroke-width="0.4"/>
<line x1="344.79" y1="123.50" x2="344.79" y2="124.70" stroke="#444" stroke-width="0.4"/>
<line x1="346.22" y1="123.50" x2="346.22" y2="124.70" stroke="#444" stroke-width="0.4"/>
<line x1="354.57" y1="123.50" x2="354.57" y2="124.70" stroke="#444" stroke-width="0.4"/>
<line x1="358.71" y1="123.50" x2="358.71" y2="124.70" stroke="#444" stroke-width="0.4"/>
<line x1="361.65" y1="123.50" x2="361.65" y2="124.70" stroke="#444" stroke-width="0.4"/>
<line x1="363.93" y1="123.50" x2="363.93" y2="124.70" stroke="#444" stroke-width="0.4"/>
<line x1="365.79" y1="123.50" x2="365.79" y2="124.70" stroke="#444" stroke-width="0.4"/>
<line x1="367.36" y1="123.50" x2="367.36" y2="124.70" stroke="#444" stroke-width="0.4"/>
<line x1="368.72" y1="123.50" x2="368.72" y2="124.70" stroke="#444" stroke-width="0.4"/>
<line x1="369.92" y1="123.50" x2="369.92" y2="124.70" stroke="#444" stroke-width="0.4"/>
<rect x="301.00" y="123.80" width="4.50" height="1.60" fill="#111" stroke="none" stroke-width="1"/>
<text x="291.10" y="132.90" font-size="4.1" fill="#506078" text-anchor="middle">-10<tspan font-size="2.9" dy="-1.9">3</tspan></text>
<text x="304.80" y="132.90" font-size="4.1" fill="#506078" text-anchor="middle">0</text>
<text x="322.10" y="132.90" font-size="4.1" fill="#506078" text-anchor="middle">10<tspan font-size="2.9" dy="-1.9">3</tspan></text>
<text x="350.10" y="132.90" font-size="4.1" fill="#506078" text-anchor="middle">10<tspan font-size="2.9" dy="-1.9">4</tspan></text>
<text x="373.60" y="132.90" font-size="4.1" fill="#506078" text-anchor="middle">10<tspan font-size="2.9" dy="-1.9">5</tspan></text>
<line x1="285.50" y1="135.50" x2="378.65" y2="135.50" stroke="#111" stroke-width="1.1"/>
<polyline points="376.05,133.10 379.25,135.50 376.05,137.90" fill="none" stroke="#111" stroke-width="1.1"/>
<text x="370.00" y="150.00" font-size="8.6" font-weight="bold" fill="#111" stroke="#111" stroke-width="0.15" textLength="21.25" lengthAdjust="spacingAndGlyphs">LAG3</text>
<text x="308.80" y="44.70" font-size="9.3" font-weight="bold" fill="#1b2a72" stroke="#1b2a72" stroke-width="0.15" textLength="38.50" lengthAdjust="spacingAndGlyphs">HD CAR T</text>
<text x="321.30" y="62.70" font-size="9.3" font-weight="bold" fill="#c4121b" stroke="#c4121b" stroke-width="0.15" textLength="39.50" lengthAdjust="spacingAndGlyphs">Late rMM</text>
<text x="329.00" y="74.50" font-size="9.3" font-weight="bold" fill="#c4121b" stroke="#c4121b" stroke-width="0.15" textLength="25.00" lengthAdjust="spacingAndGlyphs">CAR T</text>
<clipPath id="cb3"><polygon points="410.00,122.50 410.00,122.30 424.00,122.30 427.20,122.00 430.00,120.50 433.00,116.40 435.20,106.00 436.80,96.00 437.80,90.00 438.70,85.00 440.60,63.80 442.00,54.20 443.50,46.50 444.40,39.80 445.40,42.20 446.30,40.30 447.30,42.70 448.30,49.40 449.20,56.20 450.70,63.80 451.60,69.60 453.10,75.40 454.00,85.00 455.50,93.00 457.00,99.00 460.00,110.60 463.80,118.30 467.60,121.20 472.00,122.00 484.00,122.20 487.00,121.20 490.00,120.90 493.00,121.40 496.00,122.20 504.00,122.30 504.00,122.50"/></clipPath>
<polygon points="410.00,122.50 410.00,122.40 420.00,122.30 423.40,122.00 427.00,120.00 431.00,116.40 434.00,103.00 436.20,95.00 437.50,88.00 438.50,80.00 439.30,72.00 440.10,67.70 441.10,66.70 442.00,69.60 443.50,68.20 444.40,70.60 445.40,68.70 446.80,68.20 447.80,70.10 449.20,71.10 450.70,72.50 452.10,73.50 453.10,63.80 454.00,55.70 455.00,55.20 456.00,57.10 456.90,53.30 457.90,50.90 458.70,54.20 459.80,55.70 460.80,57.10 461.70,55.70 462.70,57.60 463.70,58.60 464.60,57.10 465.60,55.70 466.30,59.00 467.00,66.70 468.00,71.50 469.40,77.30 470.90,80.20 471.80,78.80 472.80,85.00 474.30,97.20 475.50,103.00 477.20,110.60 478.50,116.00 480.10,120.20 483.00,122.00 488.00,122.30 504.00,122.40 504.00,122.50" fill="#ec9494"/>
<polyline points="410.00,122.40 420.00,122.30 423.40,122.00 427.00,120.00 431.00,116.40 434.00,103.00 436.20,95.00 437.50,88.00 438.50,80.00 439.30,72.00 440.10,67.70 441.10,66.70 442.00,69.60 443.50,68.20 444.40,70.60 445.40,68.70 446.80,68.20 447.80,70.10 449.20,71.10 450.70,72.50 452.10,73.50 453.10,63.80 454.00,55.70 455.00,55.20 456.00,57.10 456.90,53.30 457.90,50.90 458.70,54.20 459.80,55.70 460.80,57.10 461.70,55.70 462.70,57.60 463.70,58.60 464.60,57.10 465.60,55.70 466.30,59.00 467.00,66.70 468.00,71.50 469.40,77.30 470.90,80.20 471.80,78.80 472.80,85.00 474.30,97.20 475.50,103.00 477.20,110.60 478.50,116.00 480.10,120.20 483.00,122.00 488.00,122.30 504.00,122.40" fill="none" stroke="#e03434" stroke-width="0.75"/>
<polygon points="410.00,122.50 410.00,122.30 424.00,122.30 427.20,122.00 430.00,120.50 433.00,116.40 435.20,106.00 436.80,96.00 437.80,90.00 438.70,85.00 440.60,63.80 442.00,54.20 443.50,46.50 444.40,39.80 445.40,42.20 446.30,40.30 447.30,42.70 448.30,49.40 449.20,56.20 450.70,63.80 451.60,69.60 453.10,75.40 454.00,85.00 455.50,93.00 457.00,99.00 460.00,110.60 463.80,118.30 467.60,121.20 472.00,122.00 484.00,122.20 487.00,121.20 490.00,120.90 493.00,121.40 496.00,122.20 504.00,122.30 504.00,122.50" fill="#9e9ee4"/>
<polygon points="410.00,122.50 410.00,122.40 420.00,122.30 423.40,122.00 427.00,120.00 431.00,116.40 434.00,103.00 436.20,95.00 437.50,88.00 438.50,80.00 439.30,72.00 440.10,67.70 441.10,66.70 442.00,69.60 443.50,68.20 444.40,70.60 445.40,68.70 446.80,68.20 447.80,70.10 449.20,71.10 450.70,72.50 452.10,73.50 453.10,63.80 454.00,55.70 455.00,55.20 456.00,57.10 456.90,53.30 457.90,50.90 458.70,54.20 459.80,55.70 460.80,57.10 461.70,55.70 462.70,57.60 463.70,58.60 464.60,57.10 465.60,55.70 466.30,59.00 467.00,66.70 468.00,71.50 469.40,77.30 470.90,80.20 471.80,78.80 472.80,85.00 474.30,97.20 475.50,103.00 477.20,110.60 478.50,116.00 480.10,120.20 483.00,122.00 488.00,122.30 504.00,122.40 504.00,122.50" fill="#8a56a2" clip-path="url(#cb3)"/>
<polyline points="410.00,122.40 420.00,122.30 423.40,122.00 427.00,120.00 431.00,116.40 434.00,103.00 436.20,95.00 437.50,88.00 438.50,80.00 439.30,72.00 440.10,67.70 441.10,66.70 442.00,69.60 443.50,68.20 444.40,70.60 445.40,68.70 446.80,68.20 447.80,70.10 449.20,71.10 450.70,72.50 452.10,73.50 453.10,63.80 454.00,55.70 455.00,55.20 456.00,57.10 456.90,53.30 457.90,50.90 458.70,54.20 459.80,55.70 460.80,57.10 461.70,55.70 462.70,57.60 463.70,58.60 464.60,57.10 465.60,55.70 466.30,59.00 467.00,66.70 468.00,71.50 469.40,77.30 470.90,80.20 471.80,78.80 472.80,85.00 474.30,97.20 475.50,103.00 477.20,110.60 478.50,116.00 480.10,120.20 483.00,122.00 488.00,122.30 504.00,122.40" fill="none" stroke="#9a3584" stroke-width="0.75" clip-path="url(#cb3)"/>
<polyline points="410.00,122.30 424.00,122.30 427.20,122.00 430.00,120.50 433.00,116.40 435.20,106.00 436.80,96.00 437.80,90.00 438.70,85.00 440.60,63.80 442.00,54.20 443.50,46.50 444.40,39.80 445.40,42.20 446.30,40.30 447.30,42.70 448.30,49.40 449.20,56.20 450.70,63.80 451.60,69.60 453.10,75.40 454.00,85.00 455.50,93.00 457.00,99.00 460.00,110.60 463.80,118.30 467.60,121.20 472.00,122.00 484.00,122.20 487.00,121.20 490.00,120.90 493.00,121.40 496.00,122.20 504.00,122.30" fill="none" stroke="#3434c8" stroke-width="0.75"/>
<rect x="410" y="27.5" width="94.5" height="95.0" fill="none" stroke="#8a8a8a" stroke-width="0.6"/>
<line x1="410.00" y1="27.50" x2="410.00" y2="122.50" stroke="#666" stroke-width="0.8"/>
<line x1="410.00" y1="122.50" x2="504.50" y2="122.50" stroke="#666" stroke-width="0.8"/>
<line x1="407.40" y1="122.00" x2="410.00" y2="122.00" stroke="#111" stroke-width="1.1"/>
<text x="406.80" y="123.30" font-size="3.8" fill="#556070" text-anchor="end">0</text>
<line x1="408.80" y1="118.40" x2="410.00" y2="118.40" stroke="#444" stroke-width="0.4"/>
<line x1="408.80" y1="114.80" x2="410.00" y2="114.80" stroke="#444" stroke-width="0.4"/>
<line x1="408.80" y1="111.20" x2="410.00" y2="111.20" stroke="#444" stroke-width="0.4"/>
<line x1="408.80" y1="107.60" x2="410.00" y2="107.60" stroke="#444" stroke-width="0.4"/>
<line x1="407.40" y1="104.00" x2="410.00" y2="104.00" stroke="#111" stroke-width="1.1"/>
<text x="406.80" y="105.30" font-size="3.8" fill="#556070" text-anchor="end">20</text>
<line x1="408.80" y1="100.40" x2="410.00" y2="100.40" stroke="#444" stroke-width="0.4"/>
<line x1="408.80" y1="96.80" x2="410.00" y2="96.80" stroke="#444" stroke-width="0.4"/>
<line x1="408.80" y1="93.20" x2="410.00" y2="93.20" stroke="#444" stroke-width="0.4"/>
<line x1="408.80" y1="89.60" x2="410.00" y2="89.60" stroke="#444" stroke-width="0.4"/>
<line x1="407.40" y1="86.00" x2="410.00" y2="86.00" stroke="#111" stroke-width="1.1"/>
<text x="406.80" y="87.30" font-size="3.8" fill="#556070" text-anchor="end">40</text>
<line x1="408.80" y1="82.40" x2="410.00" y2="82.40" stroke="#444" stroke-width="0.4"/>
<line x1="408.80" y1="78.80" x2="410.00" y2="78.80" stroke="#444" stroke-width="0.4"/>
<line x1="408.80" y1="75.20" x2="410.00" y2="75.20" stroke="#444" stroke-width="0.4"/>
<line x1="408.80" y1="71.60" x2="410.00" y2="71.60" stroke="#444" stroke-width="0.4"/>
<line x1="407.40" y1="68.00" x2="410.00" y2="68.00" stroke="#111" stroke-width="1.1"/>
<text x="406.80" y="69.30" font-size="3.8" fill="#556070" text-anchor="end">60</text>
<line x1="408.80" y1="64.40" x2="410.00" y2="64.40" stroke="#444" stroke-width="0.4"/>
<line x1="408.80" y1="60.80" x2="410.00" y2="60.80" stroke="#444" stroke-width="0.4"/>
<line x1="408.80" y1="57.20" x2="410.00" y2="57.20" stroke="#444" stroke-width="0.4"/>
<line x1="408.80" y1="53.60" x2="410.00" y2="53.60" stroke="#444" stroke-width="0.4"/>
<line x1="407.40" y1="50.00" x2="410.00" y2="50.00" stroke="#111" stroke-width="1.1"/>
<text x="406.80" y="51.30" font-size="3.8" fill="#556070" text-anchor="end">80</text>
<line x1="408.80" y1="46.40" x2="410.00" y2="46.40" stroke="#444" stroke-width="0.4"/>
<line x1="408.80" y1="42.80" x2="410.00" y2="42.80" stroke="#444" stroke-width="0.4"/>
<line x1="408.80" y1="39.20" x2="410.00" y2="39.20" stroke="#444" stroke-width="0.4"/>
<line x1="408.80" y1="35.60" x2="410.00" y2="35.60" stroke="#444" stroke-width="0.4"/>
<line x1="407.40" y1="32.00" x2="410.00" y2="32.00" stroke="#111" stroke-width="1.1"/>
<text x="406.80" y="33.30" font-size="3.8" fill="#556070" text-anchor="end">100</text>
<text transform="translate(390.60,96.20) rotate(-90)" x="0" y="0" font-size="4.0" fill="#3a4656" textLength="38.60" lengthAdjust="spacingAndGlyphs">Normalized To Mode</text>
<line x1="416.50" y1="122.50" x2="416.50" y2="124.90" stroke="#222" stroke-width="0.8"/>
<line x1="431.50" y1="122.50" x2="431.50" y2="124.90" stroke="#222" stroke-width="0.8"/>
<line x1="447.00" y1="122.50" x2="447.00" y2="124.90" stroke="#222" stroke-width="0.8"/>
<line x1="474.50" y1="122.50" x2="474.50" y2="124.90" stroke="#222" stroke-width="0.8"/>
<line x1="498.00" y1="122.50" x2="498.00" y2="124.90" stroke="#222" stroke-width="0.8"/>
<line x1="420.25" y1="122.50" x2="420.25" y2="123.70" stroke="#444" stroke-width="0.4"/>
<line x1="424.00" y1="122.50" x2="424.00" y2="123.70" stroke="#444" stroke-width="0.4"/>
<line x1="427.75" y1="122.50" x2="427.75" y2="123.70" stroke="#444" stroke-width="0.4"/>
<line x1="435.38" y1="122.50" x2="435.38" y2="123.70" stroke="#444" stroke-width="0.4"/>
<line x1="439.25" y1="122.50" x2="439.25" y2="123.70" stroke="#444" stroke-width="0.4"/>
<line x1="443.12" y1="122.50" x2="443.12" y2="123.70" stroke="#444" stroke-width="0.4"/>
<line x1="455.28" y1="122.50" x2="455.28" y2="123.70" stroke="#444" stroke-width="0.4"/>
<line x1="460.12" y1="122.50" x2="460.12" y2="123.70" stroke="#444" stroke-width="0.4"/>
<line x1="463.56" y1="122.50" x2="463.56" y2="123.70" stroke="#444" stroke-width="0.4"/>
<line x1="466.22" y1="122.50" x2="466.22" y2="123.70" stroke="#444" stroke-width="0.4"/>
<line x1="468.40" y1="122.50" x2="468.40" y2="123.70" stroke="#444" stroke-width="0.4"/>
<line x1="470.24" y1="122.50" x2="470.24" y2="123.70" stroke="#444" stroke-width="0.4"/>
<line x1="471.83" y1="122.50" x2="471.83" y2="123.70" stroke="#444" stroke-width="0.4"/>
<line x1="473.24" y1="122.50" x2="473.24" y2="123.70" stroke="#444" stroke-width="0.4"/>
<line x1="481.57" y1="122.50" x2="481.57" y2="123.70" stroke="#444" stroke-width="0.4"/>
<line x1="485.71" y1="122.50" x2="485.71" y2="123.70" stroke="#444" stroke-width="0.4"/>
<line x1="488.65" y1="122.50" x2="488.65" y2="123.70" stroke="#444" stroke-width="0.4"/>
<line x1="490.93" y1="122.50" x2="490.93" y2="123.70" stroke="#444" stroke-width="0.4"/>
<line x1="492.79" y1="122.50" x2="492.79" y2="123.70" stroke="#444" stroke-width="0.4"/>
<line x1="494.36" y1="122.50" x2="494.36" y2="123.70" stroke="#444" stroke-width="0.4"/>
<line x1="495.72" y1="122.50" x2="495.72" y2="123.70" stroke="#444" stroke-width="0.4"/>
<line x1="496.92" y1="122.50" x2="496.92" y2="123.70" stroke="#444" stroke-width="0.4"/>
<rect x="428.50" y="122.80" width="4.50" height="1.60" fill="#111" stroke="none" stroke-width="1"/>
<text x="419.10" y="131.90" font-size="4.1" fill="#506078" text-anchor="middle">-10<tspan font-size="2.9" dy="-1.9">3</tspan></text>
<text x="432.30" y="131.90" font-size="4.1" fill="#506078" text-anchor="middle">0</text>
<text x="449.60" y="131.90" font-size="4.1" fill="#506078" text-anchor="middle">10<tspan font-size="2.9" dy="-1.9">3</tspan></text>
<text x="477.10" y="131.90" font-size="4.1" fill="#506078" text-anchor="middle">10<tspan font-size="2.9" dy="-1.9">4</tspan></text>
<text x="500.60" y="131.90" font-size="4.1" fill="#506078" text-anchor="middle">10<tspan font-size="2.9" dy="-1.9">5</tspan></text>
<line x1="415.75" y1="135.75" x2="508.15" y2="135.75" stroke="#111" stroke-width="1.1"/>
<polyline points="505.55,133.35 508.75,135.75 505.55,138.15" fill="none" stroke="#111" stroke-width="1.1"/>
<text x="494.50" y="150.50" font-size="8.6" font-weight="bold" fill="#111" stroke="#111" stroke-width="0.15" textLength="19.75" lengthAdjust="spacingAndGlyphs">TIM3</text>
<text x="438.80" y="38.00" font-size="9.3" font-weight="bold" fill="#1b2a72" stroke="#1b2a72" stroke-width="0.15" textLength="38.40" lengthAdjust="spacingAndGlyphs">HD CAR T</text>
<text x="463.80" y="52.10" font-size="9.3" font-weight="bold" fill="#c4121b" stroke="#c4121b" stroke-width="0.15" textLength="39.40" lengthAdjust="spacingAndGlyphs">Late rMM</text>
<text x="471.50" y="64.00" font-size="9.3" font-weight="bold" fill="#c4121b" stroke="#c4121b" stroke-width="0.15" textLength="25.00" lengthAdjust="spacingAndGlyphs">CAR T</text>
<text x="5.15" y="169.20" font-size="13.8" font-weight="bold" fill="#111" stroke="#111" stroke-width="0.5" textLength="8.10" lengthAdjust="spacingAndGlyphs">B</text>
<line x1="66.70" y1="183.30" x2="66.70" y2="284.50" stroke="#000" stroke-width="1.0"/>
<line x1="63.10" y1="284.00" x2="66.70" y2="284.00" stroke="#000" stroke-width="1.0"/>
<text x="61.80" y="286.50" font-size="7.4" font-weight="bold" fill="#111" stroke="#111" stroke-width="0.15" text-anchor="end">0</text>
<line x1="63.10" y1="263.96" x2="66.70" y2="263.96" stroke="#000" stroke-width="1.0"/>
<text x="61.80" y="266.46" font-size="7.4" font-weight="bold" fill="#111" stroke="#111" stroke-width="0.15" text-anchor="end">1,000</text>
<line x1="63.10" y1="243.92" x2="66.70" y2="243.92" stroke="#000" stroke-width="1.0"/>
<text x="61.80" y="246.42" font-size="7.4" font-weight="bold" fill="#111" stroke="#111" stroke-width="0.15" text-anchor="end">2,000</text>
<line x1="63.10" y1="223.88" x2="66.70" y2="223.88" stroke="#000" stroke-width="1.0"/>
<text x="61.80" y="226.38" font-size="7.4" font-weight="bold" fill="#111" stroke="#111" stroke-width="0.15" text-anchor="end">3,000</text>
<line x1="63.10" y1="203.84" x2="66.70" y2="203.84" stroke="#000" stroke-width="1.0"/>
<text x="61.80" y="206.34" font-size="7.4" font-weight="bold" fill="#111" stroke="#111" stroke-width="0.15" text-anchor="end">4,000</text>
<line x1="63.10" y1="183.80" x2="66.70" y2="183.80" stroke="#000" stroke-width="1.0"/>
<text x="61.80" y="186.30" font-size="7.4" font-weight="bold" fill="#111" stroke="#111" stroke-width="0.15" text-anchor="end">5,000</text>
<line x1="66.70" y1="284.00" x2="217.90" y2="284.00" stroke="#000" stroke-width="1.0"/>
<line x1="83.50" y1="284.00" x2="83.50" y2="287.20" stroke="#000" stroke-width="1.0"/>
<line x1="122.20" y1="284.00" x2="122.20" y2="287.20" stroke="#000" stroke-width="1.0"/>
<line x1="161.20" y1="284.00" x2="161.20" y2="287.20" stroke="#000" stroke-width="1.0"/>
<line x1="200.00" y1="284.00" x2="200.00" y2="287.20" stroke="#000" stroke-width="1.0"/>
<text transform="translate(36.60,302.00) scale(1.07,1) rotate(-90)" x="0" y="0" font-size="8.2" font-weight="bold" fill="#111" stroke="#111" stroke-width="0.15" textLength="137.00" lengthAdjust="spacingAndGlyphs">Checkpoint expression levels (MFI)</text>
<rect x="72.65" y="272.05" width="7.40" height="11.95" fill="#fff" stroke="#000" stroke-width="1.5"/>
<line x1="76.35" y1="268.00" x2="76.35" y2="271.30" stroke="#808080" stroke-width="0.75"/>
<line x1="74.05" y1="268.00" x2="78.65" y2="268.00" stroke="#808080" stroke-width="0.75"/>
<circle cx="76.30" cy="265.80" r="2.05" fill="#000"/>
<circle cx="73.80" cy="273.30" r="2.05" fill="#000"/>
<circle cx="78.50" cy="273.00" r="2.05" fill="#000"/>
<rect x="87.25" y="256.35" width="7.60" height="27.65" fill="#a80404" stroke="#000" stroke-width="1.5"/>
<line x1="91.05" y1="243.50" x2="91.05" y2="255.60" stroke="#444" stroke-width="0.75"/>
<line x1="88.75" y1="243.50" x2="93.35" y2="243.50" stroke="#444" stroke-width="0.75"/>
<line x1="91.05" y1="255.60" x2="91.05" y2="268.00" stroke="#3a0505" stroke-width="0.75"/>
<line x1="88.75" y1="268.00" x2="93.35" y2="268.00" stroke="#3a0505" stroke-width="0.75"/>
<circle cx="91.20" cy="234.80" r="2.05" fill="#000"/>
<circle cx="91.20" cy="256.50" r="2.05" fill="#000"/>
<circle cx="91.20" cy="276.20" r="2.05" fill="#000"/>
<rect x="111.15" y="277.85" width="8.10" height="6.15" fill="#fff" stroke="#000" stroke-width="1.5"/>
<line x1="115.20" y1="274.00" x2="115.20" y2="277.10" stroke="#808080" stroke-width="0.75"/>
<line x1="112.90" y1="274.00" x2="117.50" y2="274.00" stroke="#808080" stroke-width="0.75"/>
<circle cx="115.20" cy="271.90" r="2.05" fill="#000"/>
<circle cx="112.80" cy="278.80" r="2.05" fill="#000"/>
<circle cx="117.60" cy="279.50" r="2.05" fill="#000"/>
<rect x="125.75" y="272.05" width="8.10" height="11.95" fill="#a80404" stroke="#000" stroke-width="1.5"/>
<line x1="129.80" y1="266.20" x2="129.80" y2="271.30" stroke="#444" stroke-width="0.75"/>
<line x1="127.50" y1="266.20" x2="132.10" y2="266.20" stroke="#444" stroke-width="0.75"/>
<circle cx="129.60" cy="262.70" r="2.05" fill="#000"/>
<circle cx="129.60" cy="276.70" r="2.05" fill="#000"/>
<circle cx="129.60" cy="272.00" r="2.05" fill="#000"/>
<rect x="150.35" y="254.95" width="7.60" height="29.05" fill="#fff" stroke="#000" stroke-width="1.5"/>
<line x1="154.15" y1="230.40" x2="154.15" y2="254.20" stroke="#808080" stroke-width="0.75"/>
<line x1="151.85" y1="230.40" x2="156.45" y2="230.40" stroke="#808080" stroke-width="0.75"/>
<line x1="154.15" y1="254.20" x2="154.15" y2="276.00" stroke="#808080" stroke-width="0.75"/>
<line x1="151.85" y1="276.00" x2="156.45" y2="276.00" stroke="#808080" stroke-width="0.75"/>
<circle cx="153.80" cy="207.70" r="2.05" fill="#000"/>
<circle cx="153.80" cy="272.30" r="2.05" fill="#000"/>
<circle cx="153.80" cy="280.40" r="2.05" fill="#000"/>
<rect x="164.95" y="255.15" width="7.80" height="28.85" fill="#a80404" stroke="#000" stroke-width="1.5"/>
<line x1="168.85" y1="239.60" x2="168.85" y2="254.40" stroke="#444" stroke-width="0.75"/>
<line x1="166.55" y1="239.60" x2="171.15" y2="239.60" stroke="#444" stroke-width="0.75"/>
<line x1="168.85" y1="254.40" x2="168.85" y2="268.30" stroke="#3a0505" stroke-width="0.75"/>
<line x1="166.55" y1="268.30" x2="171.15" y2="268.30" stroke="#3a0505" stroke-width="0.75"/>
<circle cx="168.70" cy="227.50" r="2.05" fill="#000"/>
<circle cx="168.70" cy="257.70" r="2.05" fill="#000"/>
<circle cx="168.70" cy="276.30" r="2.05" fill="#000"/>
<rect x="189.25" y="271.55" width="7.30" height="12.45" fill="#fff" stroke="#000" stroke-width="1.5"/>
<line x1="192.90" y1="266.30" x2="192.90" y2="270.80" stroke="#808080" stroke-width="0.75"/>
<line x1="190.60" y1="266.30" x2="195.20" y2="266.30" stroke="#808080" stroke-width="0.75"/>
<line x1="192.90" y1="270.80" x2="192.90" y2="274.00" stroke="#808080" stroke-width="0.75"/>
<line x1="190.60" y1="274.00" x2="195.20" y2="274.00" stroke="#808080" stroke-width="0.75"/>
<circle cx="192.90" cy="262.50" r="2.05" fill="#000"/>
<circle cx="192.90" cy="269.20" r="2.05" fill="#000"/>
<circle cx="192.90" cy="278.30" r="2.05" fill="#000"/>
<rect x="203.65" y="255.15" width="7.30" height="28.85" fill="#a80404" stroke="#000" stroke-width="1.5"/>
<line x1="207.30" y1="234.60" x2="207.30" y2="254.40" stroke="#444" stroke-width="0.75"/>
<line x1="205.00" y1="234.60" x2="209.60" y2="234.60" stroke="#444" stroke-width="0.75"/>
<line x1="207.30" y1="254.40" x2="207.30" y2="273.70" stroke="#3a0505" stroke-width="0.75"/>
<line x1="205.00" y1="273.70" x2="209.60" y2="273.70" stroke="#3a0505" stroke-width="0.75"/>
<circle cx="207.30" cy="215.80" r="2.05" fill="#000"/>
<circle cx="207.30" cy="268.30" r="2.05" fill="#000"/>
<circle cx="207.30" cy="277.30" r="2.05" fill="#000"/>
<text x="74.40" y="296.30" font-size="7.2" font-weight="bold" fill="#111" stroke="#111" stroke-width="0.15" textLength="20.20" lengthAdjust="spacingAndGlyphs">TIGIT</text>
<text x="114.80" y="296.30" font-size="7.2" font-weight="bold" fill="#111" stroke="#111" stroke-width="0.15" textLength="18.20" lengthAdjust="spacingAndGlyphs">PD–1</text>
<text x="151.20" y="296.30" font-size="7.2" font-weight="bold" fill="#111" stroke="#111" stroke-width="0.15" textLength="20.00" lengthAdjust="spacingAndGlyphs">LAG3</text>
<text x="192.00" y="296.30" font-size="7.2" font-weight="bold" fill="#111" stroke="#111" stroke-width="0.15" textLength="17.20" lengthAdjust="spacingAndGlyphs">TIM3</text>
<text x="79.20" y="307.60" font-size="7.8" font-weight="bold" fill="#111" stroke="#111" stroke-width="0.15" textLength="125.20" lengthAdjust="spacingAndGlyphs">Checkpoint inhibitory molecules</text>
<rect x="176.55" y="176.75" width="9.90" height="3.60" fill="#fff" stroke="#000" stroke-width="1.1"/>
<rect x="176.55" y="188.05" width="9.90" height="4.10" fill="#a80404" stroke="#000" stroke-width="1.1"/>
<text x="192.80" y="181.40" font-size="8.3" fill="#111" stroke="#111" stroke-width="0.08" textLength="36.90" lengthAdjust="spacingAndGlyphs">HD CAR T</text>
<text x="192.80" y="192.70" font-size="8.3" fill="#111" stroke="#111" stroke-width="0.08" textLength="58.50" lengthAdjust="spacingAndGlyphs">Late rMM CAR T</text>
<text x="276.85" y="170.40" font-size="13.8" font-weight="bold" fill="#111" stroke="#111" stroke-width="0.5" textLength="8.30" lengthAdjust="spacingAndGlyphs">C</text>
<line x1="318.00" y1="183.30" x2="318.00" y2="283.70" stroke="#000" stroke-width="1.0"/>
<line x1="314.40" y1="283.20" x2="318.00" y2="283.20" stroke="#000" stroke-width="1.0"/>
<text x="313.00" y="285.70" font-size="7.4" font-weight="bold" fill="#111" stroke="#111" stroke-width="0.15" text-anchor="end">0</text>
<line x1="314.40" y1="258.35" x2="318.00" y2="258.35" stroke="#000" stroke-width="1.0"/>
<text x="313.00" y="260.85" font-size="7.4" font-weight="bold" fill="#111" stroke="#111" stroke-width="0.15" text-anchor="end">20</text>
<line x1="314.40" y1="233.50" x2="318.00" y2="233.50" stroke="#000" stroke-width="1.0"/>
<text x="313.00" y="236.00" font-size="7.4" font-weight="bold" fill="#111" stroke="#111" stroke-width="0.15" text-anchor="end">40</text>
<line x1="314.40" y1="208.65" x2="318.00" y2="208.65" stroke="#000" stroke-width="1.0"/>
<text x="313.00" y="211.15" font-size="7.4" font-weight="bold" fill="#111" stroke="#111" stroke-width="0.15" text-anchor="end">60</text>
<line x1="314.40" y1="183.80" x2="318.00" y2="183.80" stroke="#000" stroke-width="1.0"/>
<text x="313.00" y="186.30" font-size="7.4" font-weight="bold" fill="#111" stroke="#111" stroke-width="0.15" text-anchor="end">80</text>
<line x1="318.00" y1="283.20" x2="467.50" y2="283.20" stroke="#000" stroke-width="1.0"/>
<line x1="335.00" y1="283.20" x2="335.00" y2="286.80" stroke="#000" stroke-width="1.0"/>
<line x1="372.40" y1="283.20" x2="372.40" y2="286.80" stroke="#000" stroke-width="1.0"/>
<line x1="411.70" y1="283.20" x2="411.70" y2="286.80" stroke="#000" stroke-width="1.0"/>
<line x1="449.80" y1="283.20" x2="449.80" y2="286.80" stroke="#000" stroke-width="1.0"/>
<text transform="translate(300.30,281.80) scale(1.07,1) rotate(-90)" x="0" y="0" font-size="7.9" font-weight="bold" fill="#111" stroke="#111" stroke-width="0.15" textLength="96.80" lengthAdjust="spacingAndGlyphs">Percentage of T cells (%)</text>
<rect x="324.15" y="282.15" width="7.80" height="1.05" fill="#fff" stroke="#000" stroke-width="1.5"/>
<line x1="328.05" y1="280.50" x2="328.05" y2="281.40" stroke="#3c3c3c" stroke-width="0.8"/>
<line x1="325.75" y1="280.50" x2="330.35" y2="280.50" stroke="#3c3c3c" stroke-width="0.8"/>
<rect x="338.45" y="279.95" width="7.80" height="3.25" fill="#a80404" stroke="#000" stroke-width="1.5"/>
<line x1="342.35" y1="277.30" x2="342.35" y2="279.20" stroke="#3c3c3c" stroke-width="0.8"/>
<line x1="340.05" y1="277.30" x2="344.65" y2="277.30" stroke="#3c3c3c" stroke-width="0.8"/>
<rect x="362.05" y="272.35" width="7.70" height="10.85" fill="#fff" stroke="#000" stroke-width="1.5"/>
<line x1="365.90" y1="269.30" x2="365.90" y2="271.60" stroke="#3c3c3c" stroke-width="0.8"/>
<line x1="363.60" y1="269.30" x2="368.20" y2="269.30" stroke="#3c3c3c" stroke-width="0.8"/>
<rect x="376.55" y="258.45" width="7.70" height="24.75" fill="#a80404" stroke="#000" stroke-width="1.5"/>
<line x1="380.40" y1="252.40" x2="380.40" y2="257.70" stroke="#3c3c3c" stroke-width="0.8"/>
<line x1="378.10" y1="252.40" x2="382.70" y2="252.40" stroke="#3c3c3c" stroke-width="0.8"/>
<line x1="380.40" y1="257.70" x2="380.40" y2="262.30" stroke="#3a0505" stroke-width="0.8"/>
<line x1="378.10" y1="262.30" x2="382.70" y2="262.30" stroke="#3a0505" stroke-width="0.8"/>
<rect x="400.75" y="230.35" width="7.70" height="52.85" fill="#fff" stroke="#000" stroke-width="1.5"/>
<line x1="404.60" y1="221.00" x2="404.60" y2="229.60" stroke="#3c3c3c" stroke-width="0.8"/>
<line x1="402.30" y1="221.00" x2="406.90" y2="221.00" stroke="#3c3c3c" stroke-width="0.8"/>
<line x1="404.60" y1="229.60" x2="404.60" y2="237.30" stroke="#3c3c3c" stroke-width="0.8"/>
<line x1="402.30" y1="237.30" x2="406.90" y2="237.30" stroke="#3c3c3c" stroke-width="0.8"/>
<rect x="415.35" y="211.55" width="7.60" height="71.65" fill="#a80404" stroke="#000" stroke-width="1.5"/>
<line x1="419.15" y1="206.90" x2="419.15" y2="210.80" stroke="#3c3c3c" stroke-width="0.8"/>
<line x1="416.85" y1="206.90" x2="421.45" y2="206.90" stroke="#3c3c3c" stroke-width="0.8"/>
<rect x="439.05" y="273.65" width="7.50" height="9.55" fill="#fff" stroke="#000" stroke-width="1.5"/>
<line x1="442.80" y1="271.30" x2="442.80" y2="272.90" stroke="#3c3c3c" stroke-width="0.8"/>
<line x1="440.50" y1="271.30" x2="445.10" y2="271.30" stroke="#3c3c3c" stroke-width="0.8"/>
<rect x="453.45" y="252.25" width="7.50" height="30.95" fill="#a80404" stroke="#000" stroke-width="1.5"/>
<line x1="457.20" y1="234.40" x2="457.20" y2="251.50" stroke="#3c3c3c" stroke-width="0.8"/>
<line x1="454.90" y1="234.40" x2="459.50" y2="234.40" stroke="#3c3c3c" stroke-width="0.8"/>
<line x1="457.20" y1="251.50" x2="457.20" y2="267.50" stroke="#3a0505" stroke-width="0.8"/>
<line x1="454.90" y1="267.50" x2="459.50" y2="267.50" stroke="#3a0505" stroke-width="0.8"/>
<line x1="362.00" y1="245.70" x2="382.80" y2="245.70" stroke="#222" stroke-width="0.9"/>
<text x="372.40" y="246.40" font-size="11.5" font-weight="bold" fill="#111" stroke="#111" stroke-width="0.15" text-anchor="middle">*</text>
<text x="325.50" y="295.80" font-size="7.2" font-weight="bold" fill="#111" stroke="#111" stroke-width="0.15" textLength="18.70" lengthAdjust="spacingAndGlyphs">TIGIT</text>
<text x="364.30" y="295.80" font-size="7.2" font-weight="bold" fill="#111" stroke="#111" stroke-width="0.15" textLength="18.50" lengthAdjust="spacingAndGlyphs">PD–1</text>
<text x="401.50" y="295.80" font-size="7.2" font-weight="bold" fill="#111" stroke="#111" stroke-width="0.15" textLength="19.80" lengthAdjust="spacingAndGlyphs">LAG3</text>
<text x="442.00" y="295.80" font-size="7.2" font-weight="bold" fill="#111" stroke="#111" stroke-width="0.15" textLength="16.50" lengthAdjust="spacingAndGlyphs">TIM3</text>
<text x="330.30" y="306.80" font-size="7.8" font-weight="bold" fill="#111" stroke="#111" stroke-width="0.15" textLength="124.30" lengthAdjust="spacingAndGlyphs">Checkpoint inhibitory molecules</text>
<rect x="440.05" y="172.85" width="9.60" height="4.10" fill="#fff" stroke="#000" stroke-width="1.1"/>
<rect x="440.05" y="184.55" width="9.60" height="4.10" fill="#a80404" stroke="#000" stroke-width="1.1"/>
<text x="456.00" y="178.00" font-size="8.3" fill="#111" stroke="#111" stroke-width="0.08" textLength="37.20" lengthAdjust="spacingAndGlyphs">HD CAR T</text>
<text x="456.00" y="189.20" font-size="8.3" fill="#111" stroke="#111" stroke-width="0.08" textLength="59.10" lengthAdjust="spacingAndGlyphs">Late rMM CAR T</text>
<text x="5.65" y="332.50" font-size="13.8" font-weight="bold" fill="#111" stroke="#111" stroke-width="0.5" textLength="8.90" lengthAdjust="spacingAndGlyphs">D</text>
<filter id="bl1" x="-20%" y="-20%" width="140%" height="140%"><feGaussianBlur stdDeviation="0.5"/></filter>
<filter id="bl2" x="-30%" y="-30%" width="160%" height="160%"><feGaussianBlur stdDeviation="1.6"/></filter>
<filter id="bl3" x="-40%" y="-40%" width="180%" height="180%"><feGaussianBlur stdDeviation="1.1"/></filter>
<filter id="bl4" x="-40%" y="-40%" width="180%" height="180%"><feGaussianBlur stdDeviation="0.6"/></filter>
<filter id="ins" x="-10%" y="-10%" width="120%" height="120%"><feMorphology operator="erode" radius="2.6"/><feGaussianBlur stdDeviation="1.4"/></filter>
<clipPath id="cd1"><path d="M41.10,403.20 C42.53,401.57 42.33,403.03 45.40,400.80 C48.47,398.57 47.83,399.80 50.30,396.50 C52.77,393.20 51.77,395.23 52.80,390.90 C53.83,386.57 52.40,387.67 53.40,383.50 C54.40,379.33 53.53,380.37 55.80,378.40 C58.07,376.43 57.10,377.13 60.20,377.60 C63.30,378.07 61.83,378.43 65.10,379.80 C68.37,381.17 66.73,380.47 70.00,381.70 C73.27,382.93 72.03,383.30 74.90,383.50 C77.77,383.70 76.33,383.03 78.60,382.30 C80.87,381.57 79.83,380.47 81.70,381.30 C83.57,382.13 83.17,382.00 84.20,384.80 C85.23,387.60 83.80,386.43 84.80,389.70 C85.80,392.97 85.57,391.73 87.20,394.60 C88.83,397.47 87.23,395.83 89.70,398.30 C92.17,400.77 91.73,399.53 94.60,402.00 C97.47,404.47 97.90,403.23 98.30,405.70 C98.70,408.17 98.67,407.37 95.80,409.40 C92.93,411.43 94.60,410.37 89.70,411.80 C84.80,413.23 88.07,412.47 81.10,413.70 C74.13,414.93 77.00,414.57 68.80,415.50 C60.60,416.43 63.07,416.70 56.50,416.50 C49.93,416.30 53.63,417.27 49.10,414.90 C44.57,412.53 45.57,412.47 42.90,409.40 C40.23,406.33 41.70,407.77 41.10,405.70 C40.50,403.63 39.67,404.83 41.10,403.20Z"/></clipPath>
<path d="M41.10,403.20 C42.53,401.57 42.33,403.03 45.40,400.80 C48.47,398.57 47.83,399.80 50.30,396.50 C52.77,393.20 51.77,395.23 52.80,390.90 C53.83,386.57 52.40,387.67 53.40,383.50 C54.40,379.33 53.53,380.37 55.80,378.40 C58.07,376.43 57.10,377.13 60.20,377.60 C63.30,378.07 61.83,378.43 65.10,379.80 C68.37,381.17 66.73,380.47 70.00,381.70 C73.27,382.93 72.03,383.30 74.90,383.50 C77.77,383.70 76.33,383.03 78.60,382.30 C80.87,381.57 79.83,380.47 81.70,381.30 C83.57,382.13 83.17,382.00 84.20,384.80 C85.23,387.60 83.80,386.43 84.80,389.70 C85.80,392.97 85.57,391.73 87.20,394.60 C88.83,397.47 87.23,395.83 89.70,398.30 C92.17,400.77 91.73,399.53 94.60,402.00 C97.47,404.47 97.90,403.23 98.30,405.70 C98.70,408.17 98.67,407.37 95.80,409.40 C92.93,411.43 94.60,410.37 89.70,411.80 C84.80,413.23 88.07,412.47 81.10,413.70 C74.13,414.93 77.00,414.57 68.80,415.50 C60.60,416.43 63.07,416.70 56.50,416.50 C49.93,416.30 53.63,417.27 49.10,414.90 C44.57,412.53 45.57,412.47 42.90,409.40 C40.23,406.33 41.70,407.77 41.10,405.70 C40.50,403.63 39.67,404.83 41.10,403.20Z" fill="#0a10ff" filter="url(#bl1)"/>
<g clip-path="url(#cd1)">
<path d="M41.10,403.20 C42.53,401.57 42.33,403.03 45.40,400.80 C48.47,398.57 47.83,399.80 50.30,396.50 C52.77,393.20 51.77,395.23 52.80,390.90 C53.83,386.57 52.40,387.67 53.40,383.50 C54.40,379.33 53.53,380.37 55.80,378.40 C58.07,376.43 57.10,377.13 60.20,377.60 C63.30,378.07 61.83,378.43 65.10,379.80 C68.37,381.17 66.73,380.47 70.00,381.70 C73.27,382.93 72.03,383.30 74.90,383.50 C77.77,383.70 76.33,383.03 78.60,382.30 C80.87,381.57 79.83,380.47 81.70,381.30 C83.57,382.13 83.17,382.00 84.20,384.80 C85.23,387.60 83.80,386.43 84.80,389.70 C85.80,392.97 85.57,391.73 87.20,394.60 C88.83,397.47 87.23,395.83 89.70,398.30 C92.17,400.77 91.73,399.53 94.60,402.00 C97.47,404.47 97.90,403.23 98.30,405.70 C98.70,408.17 98.67,407.37 95.80,409.40 C92.93,411.43 94.60,410.37 89.70,411.80 C84.80,413.23 88.07,412.47 81.10,413.70 C74.13,414.93 77.00,414.57 68.80,415.50 C60.60,416.43 63.07,416.70 56.50,416.50 C49.93,416.30 53.63,417.27 49.10,414.90 C44.57,412.53 45.57,412.47 42.90,409.40 C40.23,406.33 41.70,407.77 41.10,405.70 C40.50,403.63 39.67,404.83 41.10,403.20Z" fill="#0050ff" filter="url(#ins)"/>
<path d="M47.00,406.00 C47.67,402.00 49.33,404.33 52.00,400.00 C54.67,395.67 52.33,396.83 55.00,393.00 C57.67,389.17 55.67,390.00 60.00,388.50 C64.33,387.00 62.33,387.83 68.00,388.50 C73.67,389.17 71.33,388.33 77.00,390.50 C82.67,392.67 80.00,390.83 85.00,395.00 C90.00,399.17 91.00,398.33 92.00,403.00 C93.00,407.67 93.67,406.00 88.00,409.00 C82.33,412.00 84.33,410.33 75.00,412.00 C65.67,413.67 68.33,414.00 60.00,414.00 C51.67,414.00 54.33,414.67 50.00,412.00 C45.67,409.33 46.33,410.00 47.00,406.00Z" fill="#0098ff" filter="url(#bl2)"/>
<path d="M50.00,408.00 C50.33,405.33 51.33,405.83 54.00,403.00 C56.67,400.17 54.33,401.50 58.00,399.50 C61.67,397.50 60.00,397.83 65.00,397.00 C70.00,396.17 67.67,396.17 73.00,397.00 C78.33,397.83 76.00,397.17 81.00,399.50 C86.00,401.83 86.33,401.17 88.00,404.00 C89.67,406.83 90.67,405.83 86.00,408.00 C81.33,410.17 82.67,409.17 74.00,410.50 C65.33,411.83 67.00,411.83 60.00,412.00 C53.00,412.17 56.33,412.33 53.00,411.00 C49.67,409.67 49.67,410.67 50.00,408.00Z" fill="#00e0ff" filter="url(#bl2)"/>
<ellipse cx="66" cy="407.3" rx="14" ry="5" transform="rotate(-4 66 407.3)" fill="#20f0a0" filter="url(#bl3)"/>
<ellipse cx="65" cy="407.8" rx="11.5" ry="4.2" transform="rotate(-4 65 407.8)" fill="#40ff40" filter="url(#bl3)"/>
<ellipse cx="74" cy="407.2" rx="9" ry="2.8" transform="rotate(-6 74 407.2)" fill="#60ff30" filter="url(#bl3)"/>
<ellipse cx="70" cy="407.6" rx="8" ry="2.4" transform="rotate(-6 70 407.6)" fill="#90ff20" filter="url(#bl3)"/>
<ellipse cx="63" cy="408.4" rx="6.8" ry="3.2" transform="rotate(-4 63 408.4)" fill="#ffff00" filter="url(#bl3)"/>
<ellipse cx="62.6" cy="408.6" rx="5.4" ry="2.7" transform="rotate(-4 62.6 408.6)" fill="#ff9000" filter="url(#bl4)"/>
<ellipse cx="62.5" cy="408.8" rx="4.2" ry="2.1" transform="rotate(-4 62.5 408.8)" fill="#ff0000" filter="url(#bl4)"/>
</g>
<rect x="40.5" y="345.2" width="87.9" height="86.60000000000002" fill="none" stroke="#777" stroke-width="0.6"/>
<line x1="40.50" y1="345.20" x2="40.50" y2="431.80" stroke="#333" stroke-width="0.6"/>
<line x1="40.50" y1="431.80" x2="128.40" y2="431.80" stroke="#333" stroke-width="0.6"/>
<line x1="38.30" y1="353.80" x2="40.50" y2="353.80" stroke="#222" stroke-width="0.7"/>
<text x="37.60" y="355.70" font-size="3.9" fill="#4a5060" text-anchor="end">10<tspan font-size="2.8" dy="-1.8">5</tspan></text>
<line x1="38.30" y1="374.40" x2="40.50" y2="374.40" stroke="#222" stroke-width="0.7"/>
<text x="37.60" y="376.30" font-size="3.9" fill="#4a5060" text-anchor="end">10<tspan font-size="2.8" dy="-1.8">4</tspan></text>
<line x1="38.30" y1="398.70" x2="40.50" y2="398.70" stroke="#222" stroke-width="0.7"/>
<text x="37.60" y="400.60" font-size="3.9" fill="#4a5060" text-anchor="end">10<tspan font-size="2.8" dy="-1.8">3</tspan></text>
<line x1="38.30" y1="411.80" x2="40.50" y2="411.80" stroke="#222" stroke-width="0.7"/>
<text x="37.60" y="413.70" font-size="3.9" fill="#4a5060" text-anchor="end">0</text>
<line x1="38.30" y1="427.00" x2="40.50" y2="427.00" stroke="#222" stroke-width="0.7"/>
<text x="37.60" y="428.90" font-size="3.9" fill="#4a5060" text-anchor="end">-10<tspan font-size="2.8" dy="-1.8">3</tspan></text>
<line x1="39.40" y1="357.92" x2="40.50" y2="357.92" stroke="#444" stroke-width="0.4"/>
<line x1="39.40" y1="362.04" x2="40.50" y2="362.04" stroke="#444" stroke-width="0.4"/>
<line x1="39.40" y1="366.16" x2="40.50" y2="366.16" stroke="#444" stroke-width="0.4"/>
<line x1="39.40" y1="370.28" x2="40.50" y2="370.28" stroke="#444" stroke-width="0.4"/>
<line x1="39.40" y1="379.26" x2="40.50" y2="379.26" stroke="#444" stroke-width="0.4"/>
<line x1="39.40" y1="384.12" x2="40.50" y2="384.12" stroke="#444" stroke-width="0.4"/>
<line x1="39.40" y1="388.98" x2="40.50" y2="388.98" stroke="#444" stroke-width="0.4"/>
<line x1="39.40" y1="393.84" x2="40.50" y2="393.84" stroke="#444" stroke-width="0.4"/>
<line x1="39.40" y1="401.32" x2="40.50" y2="401.32" stroke="#444" stroke-width="0.4"/>
<line x1="39.40" y1="403.94" x2="40.50" y2="403.94" stroke="#444" stroke-width="0.4"/>
<line x1="39.40" y1="406.56" x2="40.50" y2="406.56" stroke="#444" stroke-width="0.4"/>
<line x1="39.40" y1="409.18" x2="40.50" y2="409.18" stroke="#444" stroke-width="0.4"/>
<line x1="39.40" y1="414.84" x2="40.50" y2="414.84" stroke="#444" stroke-width="0.4"/>
<line x1="39.40" y1="417.88" x2="40.50" y2="417.88" stroke="#444" stroke-width="0.4"/>
<line x1="39.40" y1="420.92" x2="40.50" y2="420.92" stroke="#444" stroke-width="0.4"/>
<line x1="39.40" y1="423.96" x2="40.50" y2="423.96" stroke="#444" stroke-width="0.4"/>
<rect x="38.90" y="409.60" width="1.60" height="3.20" fill="#111" stroke="none" stroke-width="1"/>
<line x1="47.20" y1="431.80" x2="47.20" y2="434.00" stroke="#222" stroke-width="0.7"/>
<text x="48.80" y="439.60" font-size="3.9" fill="#4a5060" text-anchor="middle">-10<tspan font-size="2.8" dy="-1.8">3</tspan></text>
<line x1="61.70" y1="431.80" x2="61.70" y2="434.00" stroke="#222" stroke-width="0.7"/>
<text x="62.00" y="439.60" font-size="3.9" fill="#4a5060" text-anchor="middle">0</text>
<line x1="75.70" y1="431.80" x2="75.70" y2="434.00" stroke="#222" stroke-width="0.7"/>
<text x="77.30" y="439.60" font-size="3.9" fill="#4a5060" text-anchor="middle">10<tspan font-size="2.8" dy="-1.8">3</tspan></text>
<line x1="99.50" y1="431.80" x2="99.50" y2="434.00" stroke="#222" stroke-width="0.7"/>
<text x="101.10" y="439.60" font-size="3.9" fill="#4a5060" text-anchor="middle">10<tspan font-size="2.8" dy="-1.8">4</tspan></text>
<line x1="120.10" y1="431.80" x2="120.10" y2="434.00" stroke="#222" stroke-width="0.7"/>
<text x="121.70" y="439.60" font-size="3.9" fill="#4a5060" text-anchor="middle">10<tspan font-size="2.8" dy="-1.8">5</tspan></text>
<line x1="50.83" y1="431.80" x2="50.83" y2="432.90" stroke="#444" stroke-width="0.4"/>
<line x1="54.45" y1="431.80" x2="54.45" y2="432.90" stroke="#444" stroke-width="0.4"/>
<line x1="58.08" y1="431.80" x2="58.08" y2="432.90" stroke="#444" stroke-width="0.4"/>
<line x1="65.20" y1="431.80" x2="65.20" y2="432.90" stroke="#444" stroke-width="0.4"/>
<line x1="68.70" y1="431.80" x2="68.70" y2="432.90" stroke="#444" stroke-width="0.4"/>
<line x1="72.20" y1="431.80" x2="72.20" y2="432.90" stroke="#444" stroke-width="0.4"/>
<line x1="82.86" y1="431.80" x2="82.86" y2="432.90" stroke="#444" stroke-width="0.4"/>
<line x1="87.06" y1="431.80" x2="87.06" y2="432.90" stroke="#444" stroke-width="0.4"/>
<line x1="90.03" y1="431.80" x2="90.03" y2="432.90" stroke="#444" stroke-width="0.4"/>
<line x1="92.34" y1="431.80" x2="92.34" y2="432.90" stroke="#444" stroke-width="0.4"/>
<line x1="94.22" y1="431.80" x2="94.22" y2="432.90" stroke="#444" stroke-width="0.4"/>
<line x1="95.81" y1="431.80" x2="95.81" y2="432.90" stroke="#444" stroke-width="0.4"/>
<line x1="97.19" y1="431.80" x2="97.19" y2="432.90" stroke="#444" stroke-width="0.4"/>
<line x1="98.41" y1="431.80" x2="98.41" y2="432.90" stroke="#444" stroke-width="0.4"/>
<line x1="105.70" y1="431.80" x2="105.70" y2="432.90" stroke="#444" stroke-width="0.4"/>
<line x1="109.33" y1="431.80" x2="109.33" y2="432.90" stroke="#444" stroke-width="0.4"/>
<line x1="111.90" y1="431.80" x2="111.90" y2="432.90" stroke="#444" stroke-width="0.4"/>
<line x1="113.90" y1="431.80" x2="113.90" y2="432.90" stroke="#444" stroke-width="0.4"/>
<line x1="115.53" y1="431.80" x2="115.53" y2="432.90" stroke="#444" stroke-width="0.4"/>
<line x1="116.91" y1="431.80" x2="116.91" y2="432.90" stroke="#444" stroke-width="0.4"/>
<line x1="118.10" y1="431.80" x2="118.10" y2="432.90" stroke="#444" stroke-width="0.4"/>
<line x1="119.16" y1="431.80" x2="119.16" y2="432.90" stroke="#444" stroke-width="0.4"/>
<rect x="58.70" y="432.10" width="4.50" height="1.50" fill="#111" stroke="none" stroke-width="1"/>
<line x1="45.80" y1="444.00" x2="129.00" y2="444.00" stroke="#111" stroke-width="1.1"/>
<polyline points="126.20,441.50 129.60,444.00 126.20,446.50" fill="none" stroke="#111" stroke-width="1.1"/>
<line x1="28.00" y1="420.50" x2="28.00" y2="338.50" stroke="#111" stroke-width="1.1"/>
<polyline points="25.50,341.30 28.00,337.90 30.50,341.30" fill="none" stroke="#111" stroke-width="1.1"/>
<text x="67.40" y="343.70" font-size="9.3" font-weight="bold" fill="#111" stroke="#111" stroke-width="0.15" textLength="34.30" lengthAdjust="spacingAndGlyphs">HD CAR T</text>
<text x="129.80" y="451.20" font-size="6.8" font-weight="bold" fill="#111" stroke="#111" stroke-width="0.15" textLength="14.50" lengthAdjust="spacingAndGlyphs">PD-1</text>
<text x="7.00" y="348.00" font-size="6.6" font-weight="bold" fill="#111" stroke="#111" stroke-width="0.15" textLength="15.90" lengthAdjust="spacingAndGlyphs">LAG3</text>
<polygon points="84.50,357.30 123.30,365.40 107.20,415.90 73.80,406.30 66.90,388.60 67.60,377.20" fill="none" stroke="#222" stroke-width="0.6"/>
<text x="83.50" y="372.40" font-size="3.4" fill="#2a1a3a" textLength="30.30" lengthAdjust="spacingAndGlyphs">PD1+ LAG3+ cells</text>
<text x="98.20" y="377.60" font-size="3.4" fill="#2a1a3a" text-anchor="middle">22.1</text>
<clipPath id="cd2"><path d="M177.10,407.70 C178.23,404.60 178.03,405.57 180.00,402.50 C181.97,399.43 181.27,401.37 183.00,398.50 C184.73,395.63 183.37,396.40 185.20,393.90 C187.03,391.40 186.57,392.63 188.50,391.00 C190.43,389.37 189.20,390.27 191.00,389.00 C192.80,387.73 191.90,388.03 193.90,387.20 C195.90,386.37 194.97,387.57 197.00,386.50 C199.03,385.43 198.13,385.30 200.00,384.00 C201.87,382.70 200.93,383.10 202.60,382.60 C204.27,382.10 203.53,383.20 205.00,382.50 C206.47,381.80 205.43,381.47 207.00,380.50 C208.57,379.53 207.37,380.00 209.70,379.60 C212.03,379.20 210.93,379.13 214.00,379.30 C217.07,379.47 216.27,378.13 218.90,380.10 C221.53,382.07 220.87,381.90 221.90,385.20 C222.93,388.50 222.17,386.60 222.00,390.00 C221.83,393.40 221.90,392.07 221.40,395.40 C220.90,398.73 221.33,396.93 220.50,400.00 C219.67,403.07 220.40,402.27 218.90,404.60 C217.40,406.93 218.03,405.63 216.00,407.00 C213.97,408.37 215.80,407.43 212.80,408.70 C209.80,409.97 210.40,409.43 207.00,410.80 C203.60,412.17 205.93,411.57 202.60,412.80 C199.27,414.03 200.40,413.30 197.00,414.50 C193.60,415.70 195.73,415.07 192.40,416.40 C189.07,417.73 190.40,417.33 187.00,418.50 C183.60,419.67 185.17,420.10 182.20,419.90 C179.23,419.70 179.97,420.60 178.10,417.90 C176.23,415.20 176.93,415.20 176.60,411.80 C176.27,408.40 175.97,410.80 177.10,407.70Z"/></clipPath>
<path d="M177.10,407.70 C178.23,404.60 178.03,405.57 180.00,402.50 C181.97,399.43 181.27,401.37 183.00,398.50 C184.73,395.63 183.37,396.40 185.20,393.90 C187.03,391.40 186.57,392.63 188.50,391.00 C190.43,389.37 189.20,390.27 191.00,389.00 C192.80,387.73 191.90,388.03 193.90,387.20 C195.90,386.37 194.97,387.57 197.00,386.50 C199.03,385.43 198.13,385.30 200.00,384.00 C201.87,382.70 200.93,383.10 202.60,382.60 C204.27,382.10 203.53,383.20 205.00,382.50 C206.47,381.80 205.43,381.47 207.00,380.50 C208.57,379.53 207.37,380.00 209.70,379.60 C212.03,379.20 210.93,379.13 214.00,379.30 C217.07,379.47 216.27,378.13 218.90,380.10 C221.53,382.07 220.87,381.90 221.90,385.20 C222.93,388.50 222.17,386.60 222.00,390.00 C221.83,393.40 221.90,392.07 221.40,395.40 C220.90,398.73 221.33,396.93 220.50,400.00 C219.67,403.07 220.40,402.27 218.90,404.60 C217.40,406.93 218.03,405.63 216.00,407.00 C213.97,408.37 215.80,407.43 212.80,408.70 C209.80,409.97 210.40,409.43 207.00,410.80 C203.60,412.17 205.93,411.57 202.60,412.80 C199.27,414.03 200.40,413.30 197.00,414.50 C193.60,415.70 195.73,415.07 192.40,416.40 C189.07,417.73 190.40,417.33 187.00,418.50 C183.60,419.67 185.17,420.10 182.20,419.90 C179.23,419.70 179.97,420.60 178.10,417.90 C176.23,415.20 176.93,415.20 176.60,411.80 C176.27,408.40 175.97,410.80 177.10,407.70Z" fill="#0a10ff" filter="url(#bl1)"/>
<g clip-path="url(#cd2)">
<path d="M177.10,407.70 C178.23,404.60 178.03,405.57 180.00,402.50 C181.97,399.43 181.27,401.37 183.00,398.50 C184.73,395.63 183.37,396.40 185.20,393.90 C187.03,391.40 186.57,392.63 188.50,391.00 C190.43,389.37 189.20,390.27 191.00,389.00 C192.80,387.73 191.90,388.03 193.90,387.20 C195.90,386.37 194.97,387.57 197.00,386.50 C199.03,385.43 198.13,385.30 200.00,384.00 C201.87,382.70 200.93,383.10 202.60,382.60 C204.27,382.10 203.53,383.20 205.00,382.50 C206.47,381.80 205.43,381.47 207.00,380.50 C208.57,379.53 207.37,380.00 209.70,379.60 C212.03,379.20 210.93,379.13 214.00,379.30 C217.07,379.47 216.27,378.13 218.90,380.10 C221.53,382.07 220.87,381.90 221.90,385.20 C222.93,388.50 222.17,386.60 222.00,390.00 C221.83,393.40 221.90,392.07 221.40,395.40 C220.90,398.73 221.33,396.93 220.50,400.00 C219.67,403.07 220.40,402.27 218.90,404.60 C217.40,406.93 218.03,405.63 216.00,407.00 C213.97,408.37 215.80,407.43 212.80,408.70 C209.80,409.97 210.40,409.43 207.00,410.80 C203.60,412.17 205.93,411.57 202.60,412.80 C199.27,414.03 200.40,413.30 197.00,414.50 C193.60,415.70 195.73,415.07 192.40,416.40 C189.07,417.73 190.40,417.33 187.00,418.50 C183.60,419.67 185.17,420.10 182.20,419.90 C179.23,419.70 179.97,420.60 178.10,417.90 C176.23,415.20 176.93,415.20 176.60,411.80 C176.27,408.40 175.97,410.80 177.10,407.70Z" fill="#0050ff" filter="url(#ins)"/>
<path d="M180.00,411.00 C181.00,406.83 181.00,408.33 185.00,403.00 C189.00,397.67 187.00,399.67 192.00,395.00 C197.00,390.33 194.67,392.33 200.00,389.00 C205.33,385.67 203.00,386.50 208.00,385.00 C213.00,383.50 211.50,383.17 215.00,384.50 C218.50,385.83 217.83,384.17 218.50,389.00 C219.17,393.83 219.17,393.50 217.00,399.00 C214.83,404.50 217.67,401.67 212.00,405.50 C206.33,409.33 208.00,407.33 200.00,410.50 C192.00,413.67 194.00,413.33 188.00,415.00 C182.00,416.67 184.67,416.83 182.00,415.50 C179.33,414.17 179.00,415.17 180.00,411.00Z" fill="#0070ff" filter="url(#bl2)"/>
<path d="M184.00,411.00 C184.67,408.33 185.00,408.67 189.00,405.00 C193.00,401.33 191.33,403.67 196.00,400.00 C200.67,396.33 198.67,397.83 203.00,394.00 C207.33,390.17 205.17,390.67 209.00,388.50 C212.83,386.33 212.00,385.67 214.50,387.50 C217.00,389.33 216.83,389.00 216.50,394.00 C216.17,399.00 217.33,398.00 213.50,402.50 C209.67,407.00 211.17,404.50 205.00,407.50 C198.83,410.50 201.00,409.67 195.00,411.50 C189.00,413.33 190.67,413.17 187.00,413.00 C183.33,412.83 183.33,413.67 184.00,411.00Z" fill="#00c8ff" filter="url(#bl2)"/>
<ellipse cx="195.5" cy="409.3" rx="9.8" ry="4.6" transform="rotate(-12 195.5 409.3)" fill="#30f0a0" filter="url(#bl3)"/>
<ellipse cx="210.2" cy="396.5" rx="11.5" ry="5.4" transform="rotate(-60 210.2 396.5)" fill="#30f0a0" filter="url(#bl3)"/>
<ellipse cx="195.2" cy="409.3" rx="7.8" ry="3.7" transform="rotate(-12 195.2 409.3)" fill="#50ff40" filter="url(#bl3)"/>
<ellipse cx="210.0" cy="396.8" rx="9.5" ry="4.2" transform="rotate(-60 210.0 396.8)" fill="#50ff40" filter="url(#bl3)"/>
<ellipse cx="195.0" cy="409.3" rx="6.2" ry="3.0" transform="rotate(-10 195.0 409.3)" fill="#ffff00" filter="url(#bl3)"/>
<ellipse cx="210.0" cy="397.2" rx="7.5" ry="2.9" transform="rotate(-60 210.0 397.2)" fill="#ffff00" filter="url(#bl3)"/>
<ellipse cx="194.9" cy="409.3" rx="5.0" ry="2.5" transform="rotate(-10 194.9 409.3)" fill="#ff8000" filter="url(#bl4)"/>
<ellipse cx="194.9" cy="409.3" rx="4.2" ry="2.0" transform="rotate(-10 194.9 409.3)" fill="#ff0000" filter="url(#bl4)"/>
<ellipse cx="208.2" cy="400.6" rx="2.6" ry="1.5" transform="rotate(-55 208.2 400.6)" fill="#ff6000" filter="url(#bl4)"/>
<ellipse cx="211.4" cy="395.2" rx="2.2" ry="1.2" transform="rotate(-65 211.4 395.2)" fill="#ff6000" filter="url(#bl4)"/>
</g>
<rect x="171.5" y="344.5" width="86.5" height="87.19999999999999" fill="none" stroke="#777" stroke-width="0.6"/>
<line x1="171.50" y1="344.50" x2="171.50" y2="431.70" stroke="#333" stroke-width="0.6"/>
<line x1="171.50" y1="431.70" x2="258.00" y2="431.70" stroke="#333" stroke-width="0.6"/>
<line x1="169.30" y1="353.40" x2="171.50" y2="353.40" stroke="#222" stroke-width="0.7"/>
<text x="168.60" y="355.30" font-size="3.9" fill="#4a5060" text-anchor="end">10<tspan font-size="2.8" dy="-1.8">5</tspan></text>
<line x1="169.30" y1="373.80" x2="171.50" y2="373.80" stroke="#222" stroke-width="0.7"/>
<text x="168.60" y="375.70" font-size="3.9" fill="#4a5060" text-anchor="end">10<tspan font-size="2.8" dy="-1.8">4</tspan></text>
<line x1="169.30" y1="398.30" x2="171.50" y2="398.30" stroke="#222" stroke-width="0.7"/>
<text x="168.60" y="400.20" font-size="3.9" fill="#4a5060" text-anchor="end">10<tspan font-size="2.8" dy="-1.8">3</tspan></text>
<line x1="169.30" y1="411.40" x2="171.50" y2="411.40" stroke="#222" stroke-width="0.7"/>
<text x="168.60" y="413.30" font-size="3.9" fill="#4a5060" text-anchor="end">0</text>
<line x1="169.30" y1="426.60" x2="171.50" y2="426.60" stroke="#222" stroke-width="0.7"/>
<text x="168.60" y="428.50" font-size="3.9" fill="#4a5060" text-anchor="end">-10<tspan font-size="2.8" dy="-1.8">3</tspan></text>
<line x1="170.40" y1="357.48" x2="171.50" y2="357.48" stroke="#444" stroke-width="0.4"/>
<line x1="170.40" y1="361.56" x2="171.50" y2="361.56" stroke="#444" stroke-width="0.4"/>
<line x1="170.40" y1="365.64" x2="171.50" y2="365.64" stroke="#444" stroke-width="0.4"/>
<line x1="170.40" y1="369.72" x2="171.50" y2="369.72" stroke="#444" stroke-width="0.4"/>
<line x1="170.40" y1="378.70" x2="171.50" y2="378.70" stroke="#444" stroke-width="0.4"/>
<line x1="170.40" y1="383.60" x2="171.50" y2="383.60" stroke="#444" stroke-width="0.4"/>
<line x1="170.40" y1="388.50" x2="171.50" y2="388.50" stroke="#444" stroke-width="0.4"/>
<line x1="170.40" y1="393.40" x2="171.50" y2="393.40" stroke="#444" stroke-width="0.4"/>
<line x1="170.40" y1="400.92" x2="171.50" y2="400.92" stroke="#444" stroke-width="0.4"/>
<line x1="170.40" y1="403.54" x2="171.50" y2="403.54" stroke="#444" stroke-width="0.4"/>
<line x1="170.40" y1="406.16" x2="171.50" y2="406.16" stroke="#444" stroke-width="0.4"/>
<line x1="170.40" y1="408.78" x2="171.50" y2="408.78" stroke="#444" stroke-width="0.4"/>
<line x1="170.40" y1="414.44" x2="171.50" y2="414.44" stroke="#444" stroke-width="0.4"/>
<line x1="170.40" y1="417.48" x2="171.50" y2="417.48" stroke="#444" stroke-width="0.4"/>
<line x1="170.40" y1="420.52" x2="171.50" y2="420.52" stroke="#444" stroke-width="0.4"/>
<line x1="170.40" y1="423.56" x2="171.50" y2="423.56" stroke="#444" stroke-width="0.4"/>
<rect x="169.90" y="409.20" width="1.60" height="3.20" fill="#111" stroke="none" stroke-width="1"/>
<line x1="178.00" y1="431.70" x2="178.00" y2="433.90" stroke="#222" stroke-width="0.7"/>
<text x="179.60" y="439.50" font-size="3.9" fill="#4a5060" text-anchor="middle">-10<tspan font-size="2.8" dy="-1.8">3</tspan></text>
<line x1="192.10" y1="431.70" x2="192.10" y2="433.90" stroke="#222" stroke-width="0.7"/>
<text x="192.40" y="439.50" font-size="3.9" fill="#4a5060" text-anchor="middle">0</text>
<line x1="206.30" y1="431.70" x2="206.30" y2="433.90" stroke="#222" stroke-width="0.7"/>
<text x="207.90" y="439.50" font-size="3.9" fill="#4a5060" text-anchor="middle">10<tspan font-size="2.8" dy="-1.8">3</tspan></text>
<line x1="230.00" y1="431.70" x2="230.00" y2="433.90" stroke="#222" stroke-width="0.7"/>
<text x="231.60" y="439.50" font-size="3.9" fill="#4a5060" text-anchor="middle">10<tspan font-size="2.8" dy="-1.8">4</tspan></text>
<line x1="249.90" y1="431.70" x2="249.90" y2="433.90" stroke="#222" stroke-width="0.7"/>
<text x="251.50" y="439.50" font-size="3.9" fill="#4a5060" text-anchor="middle">10<tspan font-size="2.8" dy="-1.8">5</tspan></text>
<line x1="181.53" y1="431.70" x2="181.53" y2="432.80" stroke="#444" stroke-width="0.4"/>
<line x1="185.05" y1="431.70" x2="185.05" y2="432.80" stroke="#444" stroke-width="0.4"/>
<line x1="188.57" y1="431.70" x2="188.57" y2="432.80" stroke="#444" stroke-width="0.4"/>
<line x1="195.65" y1="431.70" x2="195.65" y2="432.80" stroke="#444" stroke-width="0.4"/>
<line x1="199.20" y1="431.70" x2="199.20" y2="432.80" stroke="#444" stroke-width="0.4"/>
<line x1="202.75" y1="431.70" x2="202.75" y2="432.80" stroke="#444" stroke-width="0.4"/>
<line x1="213.43" y1="431.70" x2="213.43" y2="432.80" stroke="#444" stroke-width="0.4"/>
<line x1="217.61" y1="431.70" x2="217.61" y2="432.80" stroke="#444" stroke-width="0.4"/>
<line x1="220.57" y1="431.70" x2="220.57" y2="432.80" stroke="#444" stroke-width="0.4"/>
<line x1="222.87" y1="431.70" x2="222.87" y2="432.80" stroke="#444" stroke-width="0.4"/>
<line x1="224.74" y1="431.70" x2="224.74" y2="432.80" stroke="#444" stroke-width="0.4"/>
<line x1="226.33" y1="431.70" x2="226.33" y2="432.80" stroke="#444" stroke-width="0.4"/>
<line x1="227.70" y1="431.70" x2="227.70" y2="432.80" stroke="#444" stroke-width="0.4"/>
<line x1="228.92" y1="431.70" x2="228.92" y2="432.80" stroke="#444" stroke-width="0.4"/>
<line x1="235.99" y1="431.70" x2="235.99" y2="432.80" stroke="#444" stroke-width="0.4"/>
<line x1="239.49" y1="431.70" x2="239.49" y2="432.80" stroke="#444" stroke-width="0.4"/>
<line x1="241.98" y1="431.70" x2="241.98" y2="432.80" stroke="#444" stroke-width="0.4"/>
<line x1="243.91" y1="431.70" x2="243.91" y2="432.80" stroke="#444" stroke-width="0.4"/>
<line x1="245.49" y1="431.70" x2="245.49" y2="432.80" stroke="#444" stroke-width="0.4"/>
<line x1="246.82" y1="431.70" x2="246.82" y2="432.80" stroke="#444" stroke-width="0.4"/>
<line x1="247.97" y1="431.70" x2="247.97" y2="432.80" stroke="#444" stroke-width="0.4"/>
<line x1="248.99" y1="431.70" x2="248.99" y2="432.80" stroke="#444" stroke-width="0.4"/>
<rect x="189.10" y="432.00" width="4.50" height="1.50" fill="#111" stroke="none" stroke-width="1"/>
<line x1="175.00" y1="443.20" x2="257.80" y2="443.20" stroke="#111" stroke-width="1.1"/>
<polyline points="255.00,440.70 258.40,443.20 255.00,445.70" fill="none" stroke="#111" stroke-width="1.1"/>
<line x1="157.90" y1="419.00" x2="157.90" y2="336.90" stroke="#111" stroke-width="1.1"/>
<polyline points="155.40,339.70 157.90,336.30 160.40,339.70" fill="none" stroke="#111" stroke-width="1.1"/>
<text x="185.90" y="342.50" font-size="9.3" font-weight="bold" fill="#111" stroke="#111" stroke-width="0.15" textLength="58.50" lengthAdjust="spacingAndGlyphs">Late rMM CAR T</text>
<text x="259.10" y="449.80" font-size="6.8" font-weight="bold" fill="#111" stroke="#111" stroke-width="0.15" textLength="13.70" lengthAdjust="spacingAndGlyphs">PD-1</text>
<text x="137.40" y="347.70" font-size="6.6" font-weight="bold" fill="#111" stroke="#111" stroke-width="0.15" textLength="15.40" lengthAdjust="spacingAndGlyphs">LAG3</text>
<polygon points="213.50,356.90 253.30,364.70 236.80,415.30 203.40,406.40 196.00,386.60 197.00,378.10" fill="none" stroke="#222" stroke-width="0.6"/>
<text x="213.50" y="372.40" font-size="3.4" fill="#2a1a3a" textLength="30.30" lengthAdjust="spacingAndGlyphs">PD1+ LAG3+ cells</text>
<text x="228.00" y="377.60" font-size="3.4" fill="#2a1a3a" text-anchor="middle">51.0</text>
<text x="280.35" y="334.10" font-size="13.8" font-weight="bold" fill="#111" stroke="#111" stroke-width="0.5" textLength="6.20" lengthAdjust="spacingAndGlyphs">E</text>
<line x1="326.50" y1="339.50" x2="326.50" y2="433.20" stroke="#000" stroke-width="1.0"/>
<line x1="322.90" y1="432.70" x2="326.50" y2="432.70" stroke="#000" stroke-width="1.0"/>
<text x="321.30" y="435.20" font-size="7.4" font-weight="bold" fill="#111" stroke="#111" stroke-width="0.15" text-anchor="end">0</text>
<line x1="322.90" y1="401.80" x2="326.50" y2="401.80" stroke="#000" stroke-width="1.0"/>
<text x="321.30" y="404.30" font-size="7.4" font-weight="bold" fill="#111" stroke="#111" stroke-width="0.15" text-anchor="end">20</text>
<line x1="322.90" y1="370.90" x2="326.50" y2="370.90" stroke="#000" stroke-width="1.0"/>
<text x="321.30" y="373.40" font-size="7.4" font-weight="bold" fill="#111" stroke="#111" stroke-width="0.15" text-anchor="end">40</text>
<line x1="322.90" y1="340.00" x2="326.50" y2="340.00" stroke="#000" stroke-width="1.0"/>
<text x="321.30" y="342.50" font-size="7.4" font-weight="bold" fill="#111" stroke="#111" stroke-width="0.15" text-anchor="end">60</text>
<line x1="326.50" y1="432.70" x2="466.80" y2="432.70" stroke="#000" stroke-width="1.0"/>
<line x1="341.80" y1="432.70" x2="341.80" y2="436.30" stroke="#000" stroke-width="1.0"/>
<line x1="378.00" y1="432.70" x2="378.00" y2="436.30" stroke="#000" stroke-width="1.0"/>
<line x1="413.90" y1="432.70" x2="413.90" y2="436.30" stroke="#000" stroke-width="1.0"/>
<line x1="449.90" y1="432.70" x2="449.90" y2="436.30" stroke="#000" stroke-width="1.0"/>
<text transform="translate(308.90,431.80) scale(1.07,1) rotate(-90)" x="0" y="0" font-size="7.5" font-weight="bold" fill="#111" stroke="#111" stroke-width="0.15" textLength="92.00" lengthAdjust="spacingAndGlyphs">Percentage of T cells (%)</text>
<rect x="331.95" y="413.05" width="6.60" height="19.65" fill="#dadada" stroke="#000" stroke-width="1.5"/>
<line x1="335.25" y1="406.40" x2="335.25" y2="412.30" stroke="#666" stroke-width="0.7"/>
<line x1="333.05" y1="406.40" x2="337.45" y2="406.40" stroke="#666" stroke-width="0.7"/>
<line x1="335.25" y1="412.30" x2="335.25" y2="417.00" stroke="#666" stroke-width="0.7"/>
<line x1="333.05" y1="417.00" x2="337.45" y2="417.00" stroke="#666" stroke-width="0.7"/>
<rect x="345.75" y="384.55" width="6.50" height="48.15" fill="#f2f21e" stroke="#000" stroke-width="1.5"/>
<line x1="349.00" y1="365.50" x2="349.00" y2="383.80" stroke="#666" stroke-width="0.7"/>
<line x1="346.80" y1="365.50" x2="351.20" y2="365.50" stroke="#666" stroke-width="0.7"/>
<line x1="349.00" y1="383.80" x2="349.00" y2="400.50" stroke="#666" stroke-width="0.7"/>
<line x1="346.80" y1="400.50" x2="351.20" y2="400.50" stroke="#666" stroke-width="0.7"/>
<rect x="368.15" y="393.75" width="6.50" height="38.95" fill="#dadada" stroke="#000" stroke-width="1.5"/>
<line x1="371.40" y1="386.00" x2="371.40" y2="393.00" stroke="#666" stroke-width="0.7"/>
<line x1="369.20" y1="386.00" x2="373.60" y2="386.00" stroke="#666" stroke-width="0.7"/>
<line x1="371.40" y1="393.00" x2="371.40" y2="399.80" stroke="#666" stroke-width="0.7"/>
<line x1="369.20" y1="399.80" x2="373.60" y2="399.80" stroke="#666" stroke-width="0.7"/>
<rect x="381.25" y="362.05" width="7.00" height="70.65" fill="#f2f21e" stroke="#000" stroke-width="1.5"/>
<line x1="384.75" y1="352.60" x2="384.75" y2="361.30" stroke="#666" stroke-width="0.7"/>
<line x1="382.55" y1="352.60" x2="386.95" y2="352.60" stroke="#666" stroke-width="0.7"/>
<line x1="384.75" y1="361.30" x2="384.75" y2="368.70" stroke="#666" stroke-width="0.7"/>
<line x1="382.55" y1="368.70" x2="386.95" y2="368.70" stroke="#666" stroke-width="0.7"/>
<rect x="404.05" y="412.15" width="6.60" height="20.55" fill="#dadada" stroke="#000" stroke-width="1.5"/>
<line x1="407.35" y1="410.50" x2="407.35" y2="411.40" stroke="#666" stroke-width="0.7"/>
<line x1="405.15" y1="410.50" x2="409.55" y2="410.50" stroke="#666" stroke-width="0.7"/>
<rect x="417.15" y="376.85" width="7.00" height="55.85" fill="#f2f21e" stroke="#000" stroke-width="1.5"/>
<line x1="420.65" y1="357.10" x2="420.65" y2="376.10" stroke="#666" stroke-width="0.7"/>
<line x1="418.45" y1="357.10" x2="422.85" y2="357.10" stroke="#666" stroke-width="0.7"/>
<line x1="420.65" y1="376.10" x2="420.65" y2="393.40" stroke="#666" stroke-width="0.7"/>
<line x1="418.45" y1="393.40" x2="422.85" y2="393.40" stroke="#666" stroke-width="0.7"/>
<rect x="440.05" y="424.45" width="6.30" height="8.25" fill="#dadada" stroke="#000" stroke-width="1.5"/>
<line x1="443.20" y1="421.50" x2="443.20" y2="423.70" stroke="#666" stroke-width="0.7"/>
<line x1="441.00" y1="421.50" x2="445.40" y2="421.50" stroke="#666" stroke-width="0.7"/>
<rect x="453.35" y="399.85" width="6.70" height="32.85" fill="#f2f21e" stroke="#000" stroke-width="1.5"/>
<line x1="456.70" y1="386.70" x2="456.70" y2="399.10" stroke="#666" stroke-width="0.7"/>
<line x1="454.50" y1="386.70" x2="458.90" y2="386.70" stroke="#666" stroke-width="0.7"/>
<line x1="456.70" y1="399.10" x2="456.70" y2="410.80" stroke="#666" stroke-width="0.7"/>
<line x1="454.50" y1="410.80" x2="458.90" y2="410.80" stroke="#666" stroke-width="0.7"/>
<line x1="365.90" y1="348.60" x2="387.10" y2="348.60" stroke="#222" stroke-width="0.9"/>
<text x="376.50" y="349.60" font-size="11.5" font-weight="bold" fill="#111" stroke="#111" stroke-width="0.15" text-anchor="middle">*</text>
<text transform="translate(344.00,441.60) rotate(-45)" x="0" y="0" font-size="7.8" font-weight="bold" fill="#111" stroke="#111" stroke-width="0.15" text-anchor="end">PD-1<tspan font-size="5.2" dy="-3">+</tspan><tspan dy="3"> TIGIT</tspan><tspan font-size="5.2" dy="-3">+</tspan></text>
<text transform="translate(380.20,441.60) rotate(-45)" x="0" y="0" font-size="7.8" font-weight="bold" fill="#111" stroke="#111" stroke-width="0.15" text-anchor="end">PD-1<tspan font-size="5.2" dy="-3">+</tspan><tspan dy="3"> LAG3</tspan><tspan font-size="5.2" dy="-3">+</tspan></text>
<text transform="translate(416.10,441.60) rotate(-45)" x="0" y="0" font-size="7.8" font-weight="bold" fill="#111" stroke="#111" stroke-width="0.15" text-anchor="end">PD-1<tspan font-size="5.2" dy="-3">+</tspan><tspan dy="3"> TIM3</tspan><tspan font-size="5.2" dy="-3">+</tspan></text>
<text transform="translate(452.10,441.60) rotate(-45)" x="0" y="0" font-size="7.8" font-weight="bold" fill="#111" stroke="#111" stroke-width="0.15" text-anchor="end">CD38<tspan font-size="5.2" dy="-3">+</tspan><tspan dy="3"> CD101</tspan><tspan font-size="5.2" dy="-3">+</tspan></text>
<rect x="432.55" y="336.15" width="9.30" height="3.80" fill="#dadada" stroke="#000" stroke-width="1.1"/>
<rect x="432.55" y="346.95" width="9.30" height="3.50" fill="#f2f21e" stroke="#000" stroke-width="1.1"/>
<text x="447.90" y="341.00" font-size="8.3" fill="#111" stroke="#111" stroke-width="0.08" textLength="35.20" lengthAdjust="spacingAndGlyphs">HD CAR T</text>
<text x="447.90" y="351.50" font-size="8.3" fill="#111" stroke="#111" stroke-width="0.08" textLength="55.70" lengthAdjust="spacingAndGlyphs">Late rMM CAR T</text>
<text x="11.25" y="483.60" font-size="13.0" font-weight="bold" fill="#111" stroke="#111" stroke-width="0.5" textLength="7.10" lengthAdjust="spacingAndGlyphs">F</text>
<rect x="39.50" y="489.10" width="386.30" height="65.60" fill="#d9d9d9" stroke="#333" stroke-width="1.6"/>
<text x="71.90" y="501.60" font-size="8.8" font-weight="bold" fill="#111" stroke="#111" stroke-width="0.15" textLength="24.30" lengthAdjust="spacingAndGlyphs">Day 0</text>
<text x="137.60" y="501.60" font-size="8.8" font-weight="bold" fill="#111" stroke="#111" stroke-width="0.15" textLength="22.20" lengthAdjust="spacingAndGlyphs">Day 1</text>
<text x="256.30" y="501.60" font-size="8.8" font-weight="bold" fill="#111" stroke="#111" stroke-width="0.15" textLength="23.30" lengthAdjust="spacingAndGlyphs">Day 5</text>
<text x="372.20" y="501.60" font-size="8.8" font-weight="bold" fill="#111" stroke="#111" stroke-width="0.15" textLength="23.50" lengthAdjust="spacingAndGlyphs">Day 8</text>
<line x1="79.90" y1="507.30" x2="388.60" y2="507.30" stroke="#222" stroke-width="0.9"/>
<polyline points="385.6,505.0 389.0,507.3 385.6,509.6" fill="none" stroke="#222" stroke-width="0.9"/>
<rect x="79.90" y="514.00" width="64.00" height="14.60" fill="#eeece1" stroke="none" stroke-width="1"/>
<text x="86.30" y="523.60" font-size="7.6" font-weight="bold" fill="#111" stroke="#111" stroke-width="0.15" textLength="51.60" lengthAdjust="spacingAndGlyphs">Grow overnight</text>
<rect x="145.40" y="514.00" width="243.00" height="14.60" fill="#1f4d8b" stroke="none" stroke-width="1"/>
<text x="193.10" y="523.60" font-size="7.6" font-weight="bold" fill="#fff" stroke="#fff" stroke-width="0.15" textLength="149.50" lengthAdjust="spacingAndGlyphs" xml:space="preserve">Coculture with U266  cell line (1:10 E/T ratio)</text>
<polygon points="396.90,514.62 398.58,521.13 403.75,521.24 399.61,525.37 401.13,531.95 396.90,527.99 392.67,531.95 394.19,525.37 390.05,521.24 395.22,521.13" fill="#c8141e"/>
<polygon points="396.80,520.17 397.80,523.04 400.13,523.44 398.42,525.61 398.86,528.72 396.80,527.19 394.74,528.72 395.18,525.61 393.47,523.44 395.80,523.04" fill="#1c2466"/>
<line x1="145.00" y1="533.00" x2="145.00" y2="538.30" stroke="#22b24c" stroke-width="1.3"/>
<polyline points="142.60,534.80 145.00,532.50 147.40,534.80" fill="none" stroke="#22b24c" stroke-width="1.3"/>
<line x1="266.90" y1="532.20" x2="266.90" y2="537.60" stroke="#22b24c" stroke-width="1.3"/>
<polyline points="264.50,534.00 266.90,531.70 269.30,534.00" fill="none" stroke="#22b24c" stroke-width="1.3"/>
<text x="128.00" y="549.20" font-size="7.6" font-weight="bold" font-style="italic" fill="#22b24c" stroke="#22b24c" stroke-width="0.15" textLength="48.70" lengthAdjust="spacingAndGlyphs">Add U266 cells</text>
<text x="250.40" y="548.40" font-size="7.6" font-weight="bold" font-style="italic" fill="#22b24c" stroke="#22b24c" stroke-width="0.15" textLength="48.20" lengthAdjust="spacingAndGlyphs">Add U266 cells</text>
<text x="50.30" y="540.30" font-size="7.4" font-style="italic" fill="#222" stroke="#222" stroke-width="0.08" textLength="54.70" lengthAdjust="spacingAndGlyphs">Thaw anti-BCMA</text>
<text x="50.30" y="549.60" font-size="7.4" font-style="italic" fill="#222" stroke="#222" stroke-width="0.08" textLength="34.30" lengthAdjust="spacingAndGlyphs">CAR T cells</text>
<text x="367.90" y="541.00" font-size="7.4" font-style="italic" fill="#222" stroke="#222" stroke-width="0.08" textLength="43.10" lengthAdjust="spacingAndGlyphs">FACS analysis</text>
<text x="11.45" y="578.20" font-size="13.8" font-weight="bold" fill="#111" stroke="#111" stroke-width="0.5" textLength="9.40" lengthAdjust="spacingAndGlyphs">G</text>
<line x1="75.00" y1="595.30" x2="75.00" y2="697.50" stroke="#000" stroke-width="1.0"/>
<line x1="71.40" y1="697.00" x2="75.00" y2="697.00" stroke="#000" stroke-width="1.0"/>
<text x="70.30" y="699.50" font-size="7.4" font-weight="bold" fill="#111" stroke="#111" stroke-width="0.15" text-anchor="end">0</text>
<line x1="71.40" y1="671.70" x2="75.00" y2="671.70" stroke="#000" stroke-width="1.0"/>
<text x="70.30" y="674.20" font-size="7.4" font-weight="bold" fill="#111" stroke="#111" stroke-width="0.15" text-anchor="end">20</text>
<line x1="71.40" y1="646.40" x2="75.00" y2="646.40" stroke="#000" stroke-width="1.0"/>
<text x="70.30" y="648.90" font-size="7.4" font-weight="bold" fill="#111" stroke="#111" stroke-width="0.15" text-anchor="end">40</text>
<line x1="71.40" y1="621.10" x2="75.00" y2="621.10" stroke="#000" stroke-width="1.0"/>
<text x="70.30" y="623.60" font-size="7.4" font-weight="bold" fill="#111" stroke="#111" stroke-width="0.15" text-anchor="end">60</text>
<line x1="71.40" y1="595.80" x2="75.00" y2="595.80" stroke="#000" stroke-width="1.0"/>
<text x="70.30" y="598.30" font-size="7.4" font-weight="bold" fill="#111" stroke="#111" stroke-width="0.15" text-anchor="end">80</text>
<line x1="75.00" y1="697.00" x2="177.50" y2="697.00" stroke="#000" stroke-width="1.0"/>
<line x1="98.80" y1="697.00" x2="98.80" y2="700.60" stroke="#000" stroke-width="1.0"/>
<line x1="153.00" y1="697.00" x2="153.00" y2="700.60" stroke="#000" stroke-width="1.0"/>
<text transform="translate(56.90,682.20) scale(1.07,1) rotate(-90)" x="0" y="0" font-size="7.9" font-weight="bold" fill="#111" stroke="#111" stroke-width="0.15" textLength="71.40" lengthAdjust="spacingAndGlyphs">U266 cell lysis (%)</text>
<rect x="83.05" y="692.35" width="10.90" height="4.65" fill="#b8b8b8" stroke="#000" stroke-width="1.5"/>
<line x1="88.50" y1="689.50" x2="88.50" y2="691.60" stroke="#3a3a3a" stroke-width="0.8"/>
<line x1="85.90" y1="689.50" x2="91.10" y2="689.50" stroke="#3a3a3a" stroke-width="0.8"/>
<rect x="103.55" y="629.85" width="11.20" height="67.15" fill="#0c0c84" stroke="#000" stroke-width="1.5"/>
<line x1="109.15" y1="611.30" x2="109.15" y2="629.10" stroke="#3a3a3a" stroke-width="0.8"/>
<line x1="106.55" y1="611.30" x2="111.75" y2="611.30" stroke="#3a3a3a" stroke-width="0.8"/>
<rect x="136.95" y="692.95" width="10.90" height="4.05" fill="#b8b8b8" stroke="#000" stroke-width="1.5"/>
<line x1="142.40" y1="687.60" x2="142.40" y2="692.20" stroke="#3a3a3a" stroke-width="0.8"/>
<line x1="139.80" y1="687.60" x2="145.00" y2="687.60" stroke="#3a3a3a" stroke-width="0.8"/>
<rect x="157.15" y="682.95" width="11.50" height="14.05" fill="#0c0c84" stroke="#000" stroke-width="1.5"/>
<line x1="162.90" y1="671.40" x2="162.90" y2="682.20" stroke="#3a3a3a" stroke-width="0.8"/>
<line x1="160.30" y1="671.40" x2="165.50" y2="671.40" stroke="#3a3a3a" stroke-width="0.8"/>
<line x1="109.50" y1="605.90" x2="162.60" y2="605.90" stroke="#222" stroke-width="0.9"/>
<text x="133.00" y="606.80" font-size="11.5" font-weight="bold" fill="#111" stroke="#111" stroke-width="0.15" text-anchor="middle">*</text>
<text x="92.60" y="710.40" font-size="7.2" font-weight="bold" fill="#111" stroke="#111" stroke-width="0.15" textLength="12.10" lengthAdjust="spacingAndGlyphs">HD</text>
<text x="135.70" y="710.40" font-size="7.2" font-weight="bold" fill="#111" stroke="#111" stroke-width="0.15" textLength="34.20" lengthAdjust="spacingAndGlyphs">Late rMM</text>
<rect x="180.55" y="590.95" width="10.00" height="3.70" fill="#b8b8b8" stroke="#000" stroke-width="1.1"/>
<rect x="180.55" y="605.65" width="10.00" height="3.60" fill="#0c0c84" stroke="#000" stroke-width="1.1"/>
<text x="196.80" y="595.90" font-size="8.3" fill="#111" stroke="#111" stroke-width="0.08" textLength="28.60" lengthAdjust="spacingAndGlyphs">UT cells</text>
<text x="196.80" y="610.30" font-size="8.3" fill="#111" stroke="#111" stroke-width="0.08" textLength="43.20" lengthAdjust="spacingAndGlyphs">CAR T cells</text>
<text x="284.85" y="583.80" font-size="13.8" font-weight="bold" fill="#111" stroke="#111" stroke-width="0.5" textLength="9.20" lengthAdjust="spacingAndGlyphs">H</text>
<line x1="340.40" y1="594.11" x2="340.40" y2="697.20" stroke="#000" stroke-width="1.0"/>
<line x1="336.80" y1="696.70" x2="340.40" y2="696.70" stroke="#000" stroke-width="1.0"/>
<text x="334.50" y="699.20" font-size="7.4" font-weight="bold" fill="#111" stroke="#111" stroke-width="0.15" text-anchor="end">0</text>
<line x1="336.80" y1="662.67" x2="340.40" y2="662.67" stroke="#000" stroke-width="1.0"/>
<text x="334.50" y="665.17" font-size="7.4" font-weight="bold" fill="#111" stroke="#111" stroke-width="0.15" text-anchor="end">200</text>
<line x1="336.80" y1="628.64" x2="340.40" y2="628.64" stroke="#000" stroke-width="1.0"/>
<text x="334.50" y="631.14" font-size="7.4" font-weight="bold" fill="#111" stroke="#111" stroke-width="0.15" text-anchor="end">400</text>
<line x1="336.80" y1="594.61" x2="340.40" y2="594.61" stroke="#000" stroke-width="1.0"/>
<text x="334.50" y="597.11" font-size="7.4" font-weight="bold" fill="#111" stroke="#111" stroke-width="0.15" text-anchor="end">600</text>
<line x1="340.40" y1="696.70" x2="405.50" y2="696.70" stroke="#000" stroke-width="1.0"/>
<line x1="359.50" y1="696.70" x2="359.50" y2="700.30" stroke="#000" stroke-width="1.0"/>
<line x1="388.80" y1="696.70" x2="388.80" y2="700.30" stroke="#000" stroke-width="1.0"/>
<text transform="translate(307.30,680.00) scale(1.07,1) rotate(-90)" x="0" y="0" font-size="7.9" font-weight="bold" fill="#111" stroke="#111" stroke-width="0.15" textLength="69.20" lengthAdjust="spacingAndGlyphs">Number of T cells</text>
<text transform="translate(316.50,688.10) scale(1.07,1) rotate(-90)" x="0" y="0" font-size="7.9" font-weight="bold" fill="#111" stroke="#111" stroke-width="0.15" textLength="85.40" lengthAdjust="spacingAndGlyphs">(per 10.000 live cells)</text>
<rect x="350.85" y="626.45" width="17.50" height="70.25" fill="#fff" stroke="#000" stroke-width="1.3"/>
<line x1="359.60" y1="603.90" x2="359.60" y2="625.80" stroke="#333" stroke-width="0.8"/>
<line x1="356.60" y1="603.90" x2="362.60" y2="603.90" stroke="#333" stroke-width="0.8"/>
<line x1="359.60" y1="625.80" x2="359.60" y2="646.60" stroke="#333" stroke-width="0.8"/>
<line x1="356.60" y1="646.60" x2="362.60" y2="646.60" stroke="#333" stroke-width="0.8"/>
<rect x="380.25" y="689.95" width="17.20" height="6.75" fill="#a80404" stroke="#000" stroke-width="1.3"/>
<line x1="388.85" y1="684.20" x2="388.85" y2="689.30" stroke="#333" stroke-width="0.8"/>
<line x1="385.85" y1="684.20" x2="391.85" y2="684.20" stroke="#333" stroke-width="0.8"/>
<line x1="388.85" y1="689.30" x2="388.85" y2="692.70" stroke="#3a0505" stroke-width="0.8"/>
<line x1="385.85" y1="692.70" x2="391.85" y2="692.70" stroke="#3a0505" stroke-width="0.8"/>
<line x1="356.70" y1="595.80" x2="382.80" y2="595.80" stroke="#222" stroke-width="0.9"/>
<text x="368.90" y="595.60" font-size="11.5" font-weight="bold" fill="#111" stroke="#111" stroke-width="0.15" text-anchor="middle">*</text>
<text transform="translate(362.20,706.00) rotate(-45)" x="0" y="0" font-size="7.9" font-weight="bold" fill="#111" stroke="#111" stroke-width="0.15" text-anchor="end">HD CAR T</text>
<text transform="translate(393.40,706.00) rotate(-45)" x="0" y="0" font-size="7.9" font-weight="bold" fill="#111" stroke="#111" stroke-width="0.15" text-anchor="end">Late rMM CAR T</text>
</g></svg>
</body></html>
